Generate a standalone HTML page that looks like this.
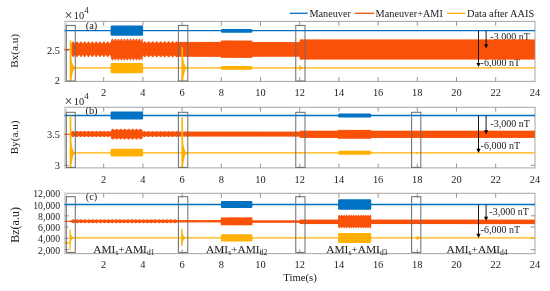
<!DOCTYPE html>
<html lang="en"><head><meta charset="utf-8"><title>Figure</title>
<style>html,body{margin:0;padding:0;background:#fff}svg{display:block}</style></head>
<body>
<svg width="550" height="291" viewBox="0 0 550 291" font-family="'Liberation Serif', serif" fill="#1a1a1a">
<rect width="550" height="291" fill="#fff"/>
<rect x="64.50" y="21.40" width="470.50" height="60.00" fill="none" stroke="#adadad" stroke-width="1.1"/>
<rect x="64.0" y="21.40" width="2.9" height="60.00" fill="#d9d9d9"/>
<path d="M103.70 81.40v-4.4M103.70 21.40v4.4M142.90 81.40v-4.4M142.90 21.40v4.4M182.10 81.40v-4.4M182.10 21.40v4.4M221.30 81.40v-4.4M221.30 21.40v4.4M260.50 81.40v-4.4M260.50 21.40v4.4M299.70 81.40v-4.4M299.70 21.40v4.4M338.90 81.40v-4.4M338.90 21.40v4.4M378.10 81.40v-4.4M378.10 21.40v4.4M417.30 81.40v-4.4M417.30 21.40v4.4M456.50 81.40v-4.4M456.50 21.40v4.4M495.70 81.40v-4.4M495.70 21.40v4.4M64.50 50.30h4.3M535.00 50.30h-4.3" stroke="#8c8c8c" stroke-width="0.9" fill="none"/>
<line x1="64.50" y1="30.70" x2="535.00" y2="30.70" stroke="#0072C3" stroke-width="1.3"/>
<rect x="110.56" y="25.60" width="32.54" height="10.10" rx="1.30" fill="#0072C3"/>
<rect x="220.91" y="29.00" width="31.46" height="3.80" rx="1.30" fill="#0072C3"/>
<text x="490.30" y="40.00" font-size="10.00" text-anchor="start" >-3,000 nT</text>
<text x="480.60" y="65.60" font-size="10.00" text-anchor="start" >-6,000 nT</text>
<line x1="64.50" y1="49.50" x2="71.56" y2="49.50" stroke="#FA5109" stroke-width="1.2"/>
<path d="M71.36 43.90 L71.76 43.12 L72.17 42.42 L72.57 41.89 L72.97 41.57 L73.38 41.51 L73.78 41.71 L74.18 42.15 L74.59 42.78 L74.99 43.53 L75.39 43.48 L75.80 42.73 L76.20 42.11 L76.60 41.69 L77.01 41.51 L77.41 41.58 L77.81 41.91 L78.22 42.46 L78.62 43.16 L79.02 43.85 L79.43 43.07 L79.83 42.38 L80.23 41.86 L80.64 41.56 L81.04 41.51 L81.44 41.73 L81.85 42.18 L82.25 42.82 L82.66 43.58 L83.06 43.43 L83.46 42.69 L83.87 42.08 L84.27 41.67 L84.67 41.50 L85.08 41.60 L85.48 41.94 L85.88 42.50 L86.29 43.21 L86.69 43.80 L87.09 43.03 L87.50 42.35 L87.90 41.84 L88.30 41.55 L88.71 41.52 L89.11 41.75 L89.51 42.21 L89.92 42.86 L90.32 43.62 L90.72 43.38 L91.13 42.65 L91.53 42.05 L91.93 41.65 L92.34 41.50 L92.74 41.61 L93.14 41.97 L93.55 42.54 L93.95 43.26 L94.35 43.75 L94.76 42.98 L95.16 42.31 L95.56 41.81 L95.97 41.54 L96.37 41.53 L96.77 41.77 L97.18 42.25 L97.58 42.91 L97.98 43.67 L98.39 43.34 L98.79 42.61 L99.19 42.02 L99.60 41.64 L100.00 41.50 L100.40 41.63 L100.81 42.00 L101.21 42.58 L101.62 43.30 L102.02 43.71 L102.42 42.94 L102.83 42.27 L103.23 41.79 L103.63 41.53 L104.04 41.53 L104.44 41.79 L104.84 42.28 L105.25 42.95 L105.65 43.72 L106.05 43.29 L106.46 42.57 L106.86 41.99 L107.26 41.62 L107.67 41.50 L108.07 41.64 L108.47 42.03 L108.88 42.62 L109.28 43.35 L109.68 43.66 L110.09 42.89 L110.49 42.24 L110.89 41.76 L110.89 41.20 L111.30 40.14 L111.70 39.26 L112.10 38.72 L112.50 38.62 L112.91 38.97 L113.31 39.71 L113.71 40.71 L114.11 40.60 L114.52 39.62 L114.92 38.91 L115.32 38.61 L115.73 38.76 L116.13 39.33 L116.53 40.24 L116.93 41.09 L117.34 40.04 L117.74 39.19 L118.14 38.69 L118.54 38.63 L118.95 39.02 L119.35 39.80 L119.75 40.82 L120.15 40.50 L120.56 39.53 L120.96 38.86 L121.36 38.60 L121.77 38.79 L122.17 39.41 L122.57 40.34 L122.97 40.98 L123.38 39.94 L123.78 39.12 L124.18 38.66 L124.58 38.65 L124.99 39.09 L125.39 39.89 L125.79 40.92 L126.19 40.39 L126.60 39.45 L127.00 38.82 L127.40 38.60 L127.81 38.84 L128.21 39.49 L128.61 40.44 L129.01 40.87 L129.42 39.85 L129.82 39.06 L130.22 38.64 L130.62 38.68 L131.03 39.15 L131.43 39.99 L131.83 41.03 L132.23 40.29 L132.64 39.37 L133.04 38.78 L133.44 38.60 L133.85 38.89 L134.25 39.57 L134.65 40.55 L135.05 40.77 L135.46 39.75 L135.86 39.00 L136.26 38.62 L136.66 38.70 L137.07 39.22 L137.47 40.08 L137.87 41.14 L138.27 40.19 L138.68 39.30 L139.08 38.74 L139.48 38.61 L139.89 38.94 L140.29 39.66 L140.69 40.65 L141.09 40.66 L141.50 39.67 L141.90 38.94 L142.30 38.61 L142.70 38.74 L142.70 43.30 L143.11 42.68 L143.51 42.12 L143.91 41.68 L144.31 41.40 L144.71 41.30 L145.11 41.40 L145.51 41.69 L145.91 42.14 L146.31 42.70 L146.72 43.28 L147.12 42.66 L147.52 42.11 L147.92 41.67 L148.32 41.39 L148.72 41.30 L149.12 41.41 L149.52 41.70 L149.92 42.15 L150.33 42.71 L150.73 43.26 L151.13 42.65 L151.53 42.09 L151.93 41.66 L152.33 41.39 L152.73 41.30 L153.13 41.41 L153.53 41.71 L153.94 42.16 L154.34 42.73 L154.74 43.25 L155.14 42.63 L155.54 42.08 L155.94 41.65 L156.34 41.38 L156.74 41.30 L157.14 41.42 L157.55 41.72 L157.95 42.18 L158.35 42.75 L158.75 43.23 L159.15 42.61 L159.55 42.07 L159.95 41.64 L160.35 41.38 L160.75 41.30 L161.16 41.42 L161.56 41.73 L161.96 42.19 L162.36 42.76 L162.76 43.21 L163.16 42.60 L163.56 42.05 L163.96 41.63 L164.36 41.37 L164.77 41.30 L165.17 41.43 L165.57 41.74 L165.97 42.21 L166.37 42.78 L166.77 43.19 L167.17 42.58 L167.57 42.04 L167.97 41.62 L168.38 41.37 L168.78 41.30 L169.18 41.44 L169.58 41.75 L169.98 42.22 L170.38 42.80 L170.78 43.18 L171.18 42.56 L171.58 42.02 L171.99 41.61 L172.39 41.36 L172.79 41.30 L173.19 41.44 L173.59 41.76 L173.99 42.24 L174.39 42.82 L174.79 43.16 L175.19 42.55 L175.60 42.01 L176.00 41.60 L176.40 41.36 L176.80 41.31 L177.20 41.45 L177.20 42.20 L177.60 41.96 L178.00 41.82 L178.40 41.82 L178.80 41.97 L179.20 42.20 L179.61 41.96 L180.01 41.82 L180.41 41.82 L180.81 41.97 L181.21 42.19 L181.61 41.96 L182.01 41.82 L182.41 41.82 L182.81 41.97 L183.21 42.19 L183.62 41.96 L184.02 41.82 L184.42 41.82 L184.82 41.97 L185.22 42.19 L185.62 41.95 L186.02 41.82 L186.42 41.82 L186.82 41.98 L187.22 42.18 L187.63 41.95 L188.03 41.81 L188.43 41.83 L188.83 41.98 L189.23 42.18 L189.63 41.95 L190.03 41.81 L190.43 41.83 L190.83 41.98 L191.23 42.18 L191.64 41.95 L192.04 41.81 L192.44 41.83 L192.84 41.98 L193.24 42.18 L193.64 41.94 L194.04 41.81 L194.44 41.83 L194.84 41.99 L195.24 42.17 L195.65 41.94 L196.05 41.81 L196.45 41.83 L196.85 41.99 L197.25 42.17 L197.65 41.94 L198.05 41.81 L198.45 41.83 L198.85 41.99 L199.25 42.17 L199.66 41.94 L200.06 41.81 L200.46 41.83 L200.86 42.00 L201.26 42.16 L201.66 41.94 L202.06 41.81 L202.46 41.83 L202.86 42.00 L203.26 42.16 L203.67 41.93 L204.07 41.81 L204.47 41.83 L204.87 42.00 L205.27 42.16 L205.67 41.93 L206.07 41.81 L206.47 41.84 L206.87 42.00 L207.27 42.15 L207.68 41.93 L208.08 41.81 L208.48 41.84 L208.88 42.01 L209.28 42.15 L209.68 41.93 L210.08 41.81 L210.48 41.84 L210.88 42.01 L211.28 42.15 L211.69 41.92 L212.09 41.81 L212.49 41.84 L212.89 42.01 L213.29 42.14 L213.69 41.92 L214.09 41.81 L214.49 41.84 L214.89 42.01 L215.29 42.14 L215.70 41.92 L216.10 41.81 L216.50 41.84 L216.90 42.02 L217.30 42.14 L217.70 41.92 L218.10 41.80 L218.50 41.84 L218.90 42.02 L219.30 42.13 L219.71 41.91 L220.11 41.80 L220.51 41.85 L220.91 42.02 L220.91 40.90 L221.31 40.54 L221.71 40.33 L222.12 40.33 L222.52 40.56 L222.92 40.88 L223.33 40.53 L223.73 40.32 L224.13 40.34 L224.54 40.57 L224.94 40.87 L225.34 40.52 L225.75 40.32 L226.15 40.34 L226.55 40.58 L226.96 40.85 L227.36 40.51 L227.76 40.32 L228.17 40.35 L228.57 40.60 L228.97 40.84 L229.38 40.50 L229.78 40.31 L230.18 40.36 L230.59 40.61 L230.99 40.82 L231.39 40.49 L231.80 40.31 L232.20 40.36 L232.60 40.62 L233.01 40.81 L233.41 40.47 L233.81 40.31 L234.22 40.37 L234.62 40.64 L235.02 40.79 L235.43 40.46 L235.83 40.30 L236.23 40.38 L236.64 40.65 L237.04 40.78 L237.44 40.45 L237.85 40.30 L238.25 40.38 L238.65 40.67 L239.06 40.76 L239.46 40.44 L239.86 40.30 L240.27 40.39 L240.67 40.68 L241.07 40.75 L241.48 40.43 L241.88 40.30 L242.28 40.40 L242.69 40.70 L243.09 40.73 L243.49 40.42 L243.90 40.30 L244.30 40.41 L244.70 40.71 L245.11 40.72 L245.51 40.41 L245.91 40.30 L246.32 40.42 L246.72 40.73 L247.12 40.70 L247.53 40.40 L247.93 40.30 L248.33 40.43 L248.74 40.74 L249.14 40.69 L249.54 40.40 L249.95 40.30 L250.35 40.44 L250.75 40.76 L251.16 40.67 L251.56 40.39 L251.96 40.30 L252.37 40.45 L252.37 42.30 L252.77 42.06 L253.17 41.92 L253.57 41.92 L253.97 42.07 L254.37 42.30 L254.77 42.06 L255.17 41.92 L255.58 41.92 L255.98 42.07 L256.38 42.29 L256.78 42.06 L257.18 41.92 L257.58 41.92 L257.98 42.07 L258.38 42.29 L258.78 42.06 L259.19 41.92 L259.59 41.92 L259.99 42.08 L260.39 42.29 L260.79 42.05 L261.19 41.92 L261.59 41.92 L261.99 42.08 L262.39 42.28 L262.80 42.05 L263.20 41.91 L263.60 41.93 L264.00 42.08 L264.40 42.28 L264.80 42.05 L265.20 41.91 L265.60 41.93 L266.00 42.08 L266.41 42.28 L266.81 42.04 L267.21 41.91 L267.61 41.93 L268.01 42.09 L268.41 42.27 L268.81 42.04 L269.21 41.91 L269.61 41.93 L270.02 42.09 L270.42 42.27 L270.82 42.04 L271.22 41.91 L271.62 41.93 L272.02 42.09 L272.42 42.26 L272.82 42.04 L273.23 41.91 L273.63 41.93 L274.03 42.10 L274.43 42.26 L274.83 42.03 L275.23 41.91 L275.63 41.93 L276.03 42.10 L276.43 42.26 L276.84 42.03 L277.24 41.91 L277.64 41.94 L278.04 42.10 L278.44 42.25 L278.84 42.03 L279.24 41.91 L279.64 41.94 L280.04 42.11 L280.45 42.25 L280.85 42.03 L281.25 41.91 L281.65 41.94 L282.05 42.11 L282.45 42.25 L282.85 42.02 L283.25 41.91 L283.65 41.94 L284.06 42.11 L284.46 42.24 L284.86 42.02 L285.26 41.91 L285.66 41.94 L286.06 42.12 L286.46 42.24 L286.86 42.02 L287.26 41.91 L287.67 41.94 L288.07 42.12 L288.47 42.24 L288.87 42.02 L289.27 41.90 L289.67 41.95 L290.07 42.12 L290.47 42.23 L290.88 42.01 L291.28 41.90 L291.68 41.95 L292.08 42.13 L292.48 42.23 L292.88 42.01 L293.28 41.90 L293.68 41.95 L294.08 42.13 L294.49 42.23 L294.89 42.01 L295.29 41.90 L295.69 41.95 L296.09 42.13 L296.49 42.22 L296.89 42.01 L297.29 41.90 L297.69 41.95 L298.10 42.14 L298.50 42.22 L298.90 42.00 L299.30 41.90 L299.70 41.95 L299.70 39.75 L300.10 39.32 L300.50 39.32 L300.90 39.75 L301.30 39.32 L301.70 39.32 L302.10 39.75 L302.50 39.32 L302.90 39.32 L303.30 39.75 L303.70 39.32 L304.10 39.32 L304.50 39.75 L304.90 39.32 L305.30 39.32 L305.70 39.75 L306.10 39.32 L306.50 39.32 L306.90 39.75 L307.30 39.32 L307.70 39.32 L308.10 39.75 L308.50 39.32 L308.90 39.32 L309.30 39.75 L309.70 39.32 L310.10 39.32 L310.50 39.75 L310.90 39.32 L311.30 39.32 L311.70 39.75 L312.10 39.32 L312.50 39.32 L312.90 39.75 L313.30 39.32 L313.70 39.32 L314.10 39.75 L314.50 39.32 L314.90 39.32 L315.30 39.75 L315.70 39.32 L316.10 39.32 L316.50 39.75 L316.90 39.32 L317.30 39.32 L317.70 39.75 L318.10 39.32 L318.50 39.32 L318.90 39.75 L319.30 39.32 L319.70 39.32 L320.10 39.75 L320.50 39.32 L320.90 39.32 L321.30 39.75 L321.70 39.32 L322.10 39.32 L322.50 39.75 L322.90 39.32 L323.30 39.32 L323.70 39.75 L324.10 39.32 L324.50 39.32 L324.90 39.75 L325.30 39.32 L325.70 39.32 L326.10 39.75 L326.50 39.32 L326.90 39.32 L327.30 39.75 L327.70 39.32 L328.10 39.32 L328.50 39.75 L328.90 39.32 L329.30 39.32 L329.70 39.75 L330.10 39.32 L330.50 39.32 L330.90 39.75 L331.30 39.32 L331.70 39.32 L332.10 39.75 L332.50 39.32 L332.90 39.32 L333.30 39.75 L333.70 39.32 L334.10 39.32 L334.50 39.75 L334.90 39.32 L335.30 39.32 L335.70 39.75 L336.10 39.32 L336.50 39.32 L336.90 39.75 L337.30 39.32 L337.70 39.32 L338.10 39.75 L338.50 39.32 L338.90 39.32 L339.30 39.75 L339.70 39.32 L340.10 39.32 L340.50 39.75 L340.90 39.32 L341.30 39.32 L341.70 39.75 L342.10 39.32 L342.50 39.32 L342.90 39.75 L343.30 39.32 L343.70 39.32 L344.10 39.75 L344.50 39.32 L344.90 39.32 L345.30 39.75 L345.70 39.32 L346.10 39.32 L346.50 39.75 L346.90 39.32 L347.30 39.32 L347.70 39.75 L348.10 39.32 L348.50 39.32 L348.90 39.75 L349.30 39.32 L349.70 39.32 L350.10 39.75 L350.50 39.32 L350.90 39.32 L351.30 39.75 L351.70 39.32 L352.10 39.32 L352.50 39.75 L352.90 39.32 L353.30 39.32 L353.70 39.75 L354.10 39.32 L354.50 39.32 L354.90 39.75 L355.30 39.32 L355.70 39.32 L356.10 39.75 L356.50 39.32 L356.90 39.32 L357.30 39.75 L357.70 39.32 L358.10 39.32 L358.50 39.75 L358.90 39.32 L359.30 39.32 L359.70 39.75 L360.10 39.32 L360.50 39.32 L360.90 39.75 L361.30 39.32 L361.70 39.32 L362.10 39.75 L362.50 39.32 L362.90 39.32 L363.30 39.75 L363.70 39.32 L364.10 39.32 L364.50 39.75 L364.90 39.32 L365.30 39.32 L365.70 39.75 L366.10 39.32 L366.50 39.32 L366.90 39.75 L367.30 39.32 L367.70 39.32 L368.10 39.75 L368.50 39.32 L368.90 39.32 L369.30 39.75 L369.70 39.32 L370.10 39.32 L370.50 39.75 L370.90 39.32 L371.30 39.32 L371.70 39.75 L372.10 39.32 L372.50 39.32 L372.90 39.75 L373.30 39.32 L373.70 39.32 L374.10 39.75 L374.50 39.32 L374.90 39.32 L375.30 39.75 L375.70 39.32 L376.10 39.32 L376.50 39.75 L376.90 39.32 L377.30 39.32 L377.70 39.75 L378.10 39.32 L378.50 39.32 L378.90 39.75 L379.30 39.32 L379.70 39.32 L380.10 39.75 L380.50 39.32 L380.90 39.32 L381.30 39.75 L381.70 39.32 L382.10 39.32 L382.50 39.75 L382.90 39.32 L383.30 39.32 L383.70 39.75 L384.10 39.32 L384.50 39.32 L384.90 39.75 L385.30 39.32 L385.70 39.32 L386.10 39.75 L386.50 39.32 L386.90 39.32 L387.30 39.75 L387.70 39.32 L388.10 39.32 L388.50 39.75 L388.90 39.32 L389.30 39.32 L389.70 39.75 L390.10 39.32 L390.50 39.32 L390.90 39.75 L391.30 39.32 L391.70 39.32 L392.10 39.75 L392.50 39.32 L392.90 39.32 L393.30 39.75 L393.70 39.32 L394.10 39.32 L394.50 39.75 L394.90 39.32 L395.30 39.32 L395.70 39.75 L396.10 39.32 L396.50 39.32 L396.90 39.75 L397.30 39.32 L397.70 39.32 L398.10 39.75 L398.50 39.32 L398.90 39.32 L399.30 39.75 L399.70 39.32 L400.10 39.32 L400.50 39.75 L400.90 39.32 L401.30 39.32 L401.70 39.75 L402.10 39.32 L402.50 39.32 L402.90 39.75 L403.30 39.32 L403.70 39.32 L404.10 39.75 L404.50 39.32 L404.90 39.32 L405.30 39.75 L405.70 39.32 L406.10 39.32 L406.50 39.75 L406.90 39.32 L407.30 39.32 L407.70 39.75 L408.10 39.32 L408.50 39.32 L408.90 39.75 L409.30 39.32 L409.70 39.32 L410.10 39.75 L410.50 39.32 L410.90 39.32 L411.30 39.75 L411.70 39.32 L412.10 39.32 L412.50 39.75 L412.90 39.32 L413.30 39.32 L413.70 39.75 L414.10 39.32 L414.50 39.32 L414.90 39.75 L415.30 39.32 L415.70 39.32 L416.10 39.75 L416.50 39.32 L416.90 39.32 L417.30 39.75 L417.70 39.32 L418.10 39.32 L418.50 39.75 L418.90 39.32 L419.30 39.32 L419.70 39.75 L420.10 39.32 L420.50 39.32 L420.90 39.75 L421.30 39.32 L421.70 39.32 L422.10 39.75 L422.50 39.32 L422.90 39.32 L423.30 39.75 L423.70 39.32 L424.10 39.32 L424.50 39.75 L424.90 39.32 L425.30 39.32 L425.70 39.75 L426.10 39.32 L426.50 39.32 L426.90 39.75 L427.30 39.32 L427.70 39.32 L428.10 39.75 L428.50 39.32 L428.90 39.32 L429.30 39.75 L429.70 39.32 L430.10 39.32 L430.50 39.75 L430.90 39.32 L431.30 39.32 L431.70 39.75 L432.10 39.32 L432.50 39.32 L432.90 39.75 L433.30 39.32 L433.70 39.32 L434.10 39.75 L434.50 39.32 L434.90 39.32 L435.30 39.75 L435.70 39.32 L436.10 39.32 L436.50 39.75 L436.90 39.32 L437.30 39.32 L437.70 39.75 L438.10 39.32 L438.50 39.32 L438.90 39.75 L439.30 39.32 L439.70 39.32 L440.10 39.75 L440.50 39.32 L440.90 39.32 L441.30 39.75 L441.70 39.32 L442.10 39.32 L442.50 39.75 L442.90 39.32 L443.30 39.32 L443.70 39.75 L444.10 39.32 L444.50 39.32 L444.90 39.75 L445.30 39.32 L445.70 39.32 L446.10 39.75 L446.50 39.32 L446.90 39.32 L447.30 39.75 L447.70 39.32 L448.10 39.32 L448.50 39.75 L448.90 39.32 L449.30 39.32 L449.70 39.75 L450.10 39.32 L450.50 39.32 L450.90 39.75 L451.30 39.32 L451.70 39.32 L452.10 39.75 L452.50 39.32 L452.90 39.32 L453.30 39.75 L453.70 39.32 L454.10 39.32 L454.50 39.75 L454.90 39.32 L455.30 39.32 L455.70 39.75 L456.10 39.32 L456.50 39.32 L456.90 39.75 L457.30 39.32 L457.70 39.32 L458.10 39.75 L458.50 39.32 L458.90 39.32 L459.30 39.75 L459.70 39.32 L460.10 39.32 L460.50 39.75 L460.90 39.32 L461.30 39.32 L461.70 39.75 L462.10 39.32 L462.50 39.32 L462.90 39.75 L463.30 39.32 L463.70 39.32 L464.10 39.75 L464.50 39.32 L464.90 39.32 L465.30 39.75 L465.70 39.32 L466.10 39.32 L466.50 39.75 L466.90 39.32 L467.30 39.32 L467.70 39.75 L468.10 39.32 L468.50 39.32 L468.90 39.75 L469.30 39.32 L469.70 39.32 L470.10 39.75 L470.50 39.32 L470.90 39.32 L471.30 39.75 L471.70 39.32 L472.10 39.32 L472.50 39.75 L472.90 39.32 L473.30 39.32 L473.70 39.75 L474.10 39.32 L474.50 39.32 L474.90 39.75 L475.30 39.32 L475.70 39.32 L476.10 39.75 L476.50 39.32 L476.90 39.32 L477.30 39.75 L477.70 39.32 L478.10 39.32 L478.50 39.75 L478.90 39.32 L479.30 39.32 L479.70 39.75 L480.10 39.32 L480.50 39.32 L480.90 39.75 L481.30 39.32 L481.70 39.32 L482.10 39.75 L482.50 39.32 L482.90 39.32 L483.30 39.75 L483.70 39.32 L484.10 39.32 L484.50 39.75 L484.90 39.32 L485.30 39.32 L485.70 39.75 L486.10 39.32 L486.50 39.32 L486.90 39.75 L487.30 39.32 L487.70 39.32 L488.10 39.75 L488.50 39.32 L488.90 39.32 L489.30 39.75 L489.70 39.32 L490.10 39.32 L490.50 39.75 L490.90 39.32 L491.30 39.32 L491.70 39.75 L492.10 39.32 L492.50 39.32 L492.90 39.75 L493.30 39.32 L493.70 39.32 L494.10 39.75 L494.50 39.32 L494.90 39.32 L495.30 39.75 L495.70 39.32 L496.10 39.32 L496.50 39.75 L496.90 39.32 L497.30 39.32 L497.70 39.75 L498.10 39.32 L498.50 39.32 L498.90 39.75 L499.30 39.32 L499.70 39.32 L500.10 39.75 L500.50 39.32 L500.90 39.32 L501.30 39.75 L501.70 39.32 L502.10 39.32 L502.50 39.75 L502.90 39.32 L503.30 39.32 L503.70 39.75 L504.10 39.32 L504.50 39.32 L504.90 39.75 L505.30 39.32 L505.70 39.32 L506.10 39.75 L506.50 39.32 L506.90 39.32 L507.30 39.75 L507.70 39.32 L508.10 39.32 L508.50 39.75 L508.90 39.32 L509.30 39.32 L509.70 39.75 L510.10 39.32 L510.50 39.32 L510.90 39.75 L511.30 39.32 L511.70 39.32 L512.10 39.75 L512.50 39.32 L512.90 39.32 L513.30 39.75 L513.70 39.32 L514.10 39.32 L514.50 39.75 L514.90 39.32 L515.30 39.32 L515.70 39.75 L516.10 39.32 L516.50 39.32 L516.90 39.75 L517.30 39.32 L517.70 39.32 L518.10 39.75 L518.50 39.32 L518.90 39.32 L519.30 39.75 L519.70 39.32 L520.10 39.32 L520.50 39.75 L520.90 39.32 L521.30 39.32 L521.70 39.75 L522.10 39.32 L522.50 39.32 L522.90 39.75 L523.30 39.32 L523.70 39.32 L524.10 39.75 L524.50 39.32 L524.90 39.32 L525.30 39.75 L525.70 39.32 L526.10 39.32 L526.50 39.75 L526.90 39.32 L527.30 39.32 L527.70 39.75 L528.10 39.32 L528.50 39.32 L528.90 39.75 L529.30 39.32 L529.70 39.32 L530.10 39.75 L530.50 39.32 L530.90 39.32 L531.30 39.75 L531.70 39.32 L532.10 39.32 L532.50 39.75 L532.90 39.32 L533.30 39.32 L533.70 39.75 L534.10 39.32 L534.50 39.32 L534.90 39.75 L534.90 59.20 L534.50 59.63 L534.10 59.63 L533.70 59.20 L533.30 59.63 L532.90 59.63 L532.50 59.20 L532.10 59.63 L531.70 59.63 L531.30 59.20 L530.90 59.63 L530.50 59.63 L530.10 59.20 L529.70 59.63 L529.30 59.63 L528.90 59.20 L528.50 59.63 L528.10 59.63 L527.70 59.20 L527.30 59.63 L526.90 59.63 L526.50 59.20 L526.10 59.63 L525.70 59.63 L525.30 59.20 L524.90 59.63 L524.50 59.63 L524.10 59.20 L523.70 59.63 L523.30 59.63 L522.90 59.20 L522.50 59.63 L522.10 59.63 L521.70 59.20 L521.30 59.63 L520.90 59.63 L520.50 59.20 L520.10 59.63 L519.70 59.63 L519.30 59.20 L518.90 59.63 L518.50 59.63 L518.10 59.20 L517.70 59.63 L517.30 59.63 L516.90 59.20 L516.50 59.63 L516.10 59.63 L515.70 59.20 L515.30 59.63 L514.90 59.63 L514.50 59.20 L514.10 59.63 L513.70 59.63 L513.30 59.20 L512.90 59.63 L512.50 59.63 L512.10 59.20 L511.70 59.63 L511.30 59.63 L510.90 59.20 L510.50 59.63 L510.10 59.63 L509.70 59.20 L509.30 59.63 L508.90 59.63 L508.50 59.20 L508.10 59.63 L507.70 59.63 L507.30 59.20 L506.90 59.63 L506.50 59.63 L506.10 59.20 L505.70 59.63 L505.30 59.63 L504.90 59.20 L504.50 59.63 L504.10 59.63 L503.70 59.20 L503.30 59.63 L502.90 59.63 L502.50 59.20 L502.10 59.63 L501.70 59.63 L501.30 59.20 L500.90 59.63 L500.50 59.63 L500.10 59.20 L499.70 59.63 L499.30 59.63 L498.90 59.20 L498.50 59.63 L498.10 59.63 L497.70 59.20 L497.30 59.63 L496.90 59.63 L496.50 59.20 L496.10 59.63 L495.70 59.63 L495.30 59.20 L494.90 59.63 L494.50 59.63 L494.10 59.20 L493.70 59.63 L493.30 59.63 L492.90 59.20 L492.50 59.63 L492.10 59.63 L491.70 59.20 L491.30 59.63 L490.90 59.63 L490.50 59.20 L490.10 59.63 L489.70 59.63 L489.30 59.20 L488.90 59.63 L488.50 59.63 L488.10 59.20 L487.70 59.63 L487.30 59.63 L486.90 59.20 L486.50 59.63 L486.10 59.63 L485.70 59.20 L485.30 59.63 L484.90 59.63 L484.50 59.20 L484.10 59.63 L483.70 59.63 L483.30 59.20 L482.90 59.63 L482.50 59.63 L482.10 59.20 L481.70 59.63 L481.30 59.63 L480.90 59.20 L480.50 59.63 L480.10 59.63 L479.70 59.20 L479.30 59.63 L478.90 59.63 L478.50 59.20 L478.10 59.63 L477.70 59.63 L477.30 59.20 L476.90 59.63 L476.50 59.63 L476.10 59.20 L475.70 59.63 L475.30 59.63 L474.90 59.20 L474.50 59.63 L474.10 59.63 L473.70 59.20 L473.30 59.63 L472.90 59.63 L472.50 59.20 L472.10 59.63 L471.70 59.63 L471.30 59.20 L470.90 59.63 L470.50 59.63 L470.10 59.20 L469.70 59.63 L469.30 59.63 L468.90 59.20 L468.50 59.63 L468.10 59.63 L467.70 59.20 L467.30 59.63 L466.90 59.63 L466.50 59.20 L466.10 59.63 L465.70 59.63 L465.30 59.20 L464.90 59.63 L464.50 59.63 L464.10 59.20 L463.70 59.63 L463.30 59.63 L462.90 59.20 L462.50 59.63 L462.10 59.63 L461.70 59.20 L461.30 59.63 L460.90 59.63 L460.50 59.20 L460.10 59.63 L459.70 59.63 L459.30 59.20 L458.90 59.63 L458.50 59.63 L458.10 59.20 L457.70 59.63 L457.30 59.63 L456.90 59.20 L456.50 59.63 L456.10 59.63 L455.70 59.20 L455.30 59.63 L454.90 59.63 L454.50 59.20 L454.10 59.63 L453.70 59.63 L453.30 59.20 L452.90 59.63 L452.50 59.63 L452.10 59.20 L451.70 59.63 L451.30 59.63 L450.90 59.20 L450.50 59.63 L450.10 59.63 L449.70 59.20 L449.30 59.63 L448.90 59.63 L448.50 59.20 L448.10 59.63 L447.70 59.63 L447.30 59.20 L446.90 59.63 L446.50 59.63 L446.10 59.20 L445.70 59.63 L445.30 59.63 L444.90 59.20 L444.50 59.63 L444.10 59.63 L443.70 59.20 L443.30 59.63 L442.90 59.63 L442.50 59.20 L442.10 59.63 L441.70 59.63 L441.30 59.20 L440.90 59.63 L440.50 59.63 L440.10 59.20 L439.70 59.63 L439.30 59.63 L438.90 59.20 L438.50 59.63 L438.10 59.63 L437.70 59.20 L437.30 59.63 L436.90 59.63 L436.50 59.20 L436.10 59.63 L435.70 59.63 L435.30 59.20 L434.90 59.63 L434.50 59.63 L434.10 59.20 L433.70 59.63 L433.30 59.63 L432.90 59.20 L432.50 59.63 L432.10 59.63 L431.70 59.20 L431.30 59.63 L430.90 59.63 L430.50 59.20 L430.10 59.63 L429.70 59.63 L429.30 59.20 L428.90 59.63 L428.50 59.63 L428.10 59.20 L427.70 59.63 L427.30 59.63 L426.90 59.20 L426.50 59.63 L426.10 59.63 L425.70 59.20 L425.30 59.63 L424.90 59.63 L424.50 59.20 L424.10 59.63 L423.70 59.63 L423.30 59.20 L422.90 59.63 L422.50 59.63 L422.10 59.20 L421.70 59.63 L421.30 59.63 L420.90 59.20 L420.50 59.63 L420.10 59.63 L419.70 59.20 L419.30 59.63 L418.90 59.63 L418.50 59.20 L418.10 59.63 L417.70 59.63 L417.30 59.20 L416.90 59.63 L416.50 59.63 L416.10 59.20 L415.70 59.63 L415.30 59.63 L414.90 59.20 L414.50 59.63 L414.10 59.63 L413.70 59.20 L413.30 59.63 L412.90 59.63 L412.50 59.20 L412.10 59.63 L411.70 59.63 L411.30 59.20 L410.90 59.63 L410.50 59.63 L410.10 59.20 L409.70 59.63 L409.30 59.63 L408.90 59.20 L408.50 59.63 L408.10 59.63 L407.70 59.20 L407.30 59.63 L406.90 59.63 L406.50 59.20 L406.10 59.63 L405.70 59.63 L405.30 59.20 L404.90 59.63 L404.50 59.63 L404.10 59.20 L403.70 59.63 L403.30 59.63 L402.90 59.20 L402.50 59.63 L402.10 59.63 L401.70 59.20 L401.30 59.63 L400.90 59.63 L400.50 59.20 L400.10 59.63 L399.70 59.63 L399.30 59.20 L398.90 59.63 L398.50 59.63 L398.10 59.20 L397.70 59.63 L397.30 59.63 L396.90 59.20 L396.50 59.63 L396.10 59.63 L395.70 59.20 L395.30 59.63 L394.90 59.63 L394.50 59.20 L394.10 59.63 L393.70 59.63 L393.30 59.20 L392.90 59.63 L392.50 59.63 L392.10 59.20 L391.70 59.63 L391.30 59.63 L390.90 59.20 L390.50 59.63 L390.10 59.63 L389.70 59.20 L389.30 59.63 L388.90 59.63 L388.50 59.20 L388.10 59.63 L387.70 59.63 L387.30 59.20 L386.90 59.63 L386.50 59.63 L386.10 59.20 L385.70 59.63 L385.30 59.63 L384.90 59.20 L384.50 59.63 L384.10 59.63 L383.70 59.20 L383.30 59.63 L382.90 59.63 L382.50 59.20 L382.10 59.63 L381.70 59.63 L381.30 59.20 L380.90 59.63 L380.50 59.63 L380.10 59.20 L379.70 59.63 L379.30 59.63 L378.90 59.20 L378.50 59.63 L378.10 59.63 L377.70 59.20 L377.30 59.63 L376.90 59.63 L376.50 59.20 L376.10 59.63 L375.70 59.63 L375.30 59.20 L374.90 59.63 L374.50 59.63 L374.10 59.20 L373.70 59.63 L373.30 59.63 L372.90 59.20 L372.50 59.63 L372.10 59.63 L371.70 59.20 L371.30 59.63 L370.90 59.63 L370.50 59.20 L370.10 59.63 L369.70 59.63 L369.30 59.20 L368.90 59.63 L368.50 59.63 L368.10 59.20 L367.70 59.63 L367.30 59.63 L366.90 59.20 L366.50 59.63 L366.10 59.63 L365.70 59.20 L365.30 59.63 L364.90 59.63 L364.50 59.20 L364.10 59.63 L363.70 59.63 L363.30 59.20 L362.90 59.63 L362.50 59.63 L362.10 59.20 L361.70 59.63 L361.30 59.63 L360.90 59.20 L360.50 59.63 L360.10 59.63 L359.70 59.20 L359.30 59.63 L358.90 59.63 L358.50 59.20 L358.10 59.63 L357.70 59.63 L357.30 59.20 L356.90 59.63 L356.50 59.63 L356.10 59.20 L355.70 59.63 L355.30 59.63 L354.90 59.20 L354.50 59.63 L354.10 59.63 L353.70 59.20 L353.30 59.63 L352.90 59.63 L352.50 59.20 L352.10 59.63 L351.70 59.63 L351.30 59.20 L350.90 59.63 L350.50 59.63 L350.10 59.20 L349.70 59.63 L349.30 59.63 L348.90 59.20 L348.50 59.63 L348.10 59.63 L347.70 59.20 L347.30 59.63 L346.90 59.63 L346.50 59.20 L346.10 59.63 L345.70 59.63 L345.30 59.20 L344.90 59.63 L344.50 59.63 L344.10 59.20 L343.70 59.63 L343.30 59.63 L342.90 59.20 L342.50 59.63 L342.10 59.63 L341.70 59.20 L341.30 59.63 L340.90 59.63 L340.50 59.20 L340.10 59.63 L339.70 59.63 L339.30 59.20 L338.90 59.63 L338.50 59.63 L338.10 59.20 L337.70 59.63 L337.30 59.63 L336.90 59.20 L336.50 59.63 L336.10 59.63 L335.70 59.20 L335.30 59.63 L334.90 59.63 L334.50 59.20 L334.10 59.63 L333.70 59.63 L333.30 59.20 L332.90 59.63 L332.50 59.63 L332.10 59.20 L331.70 59.63 L331.30 59.63 L330.90 59.20 L330.50 59.63 L330.10 59.63 L329.70 59.20 L329.30 59.63 L328.90 59.63 L328.50 59.20 L328.10 59.63 L327.70 59.63 L327.30 59.20 L326.90 59.63 L326.50 59.63 L326.10 59.20 L325.70 59.63 L325.30 59.63 L324.90 59.20 L324.50 59.63 L324.10 59.63 L323.70 59.20 L323.30 59.63 L322.90 59.63 L322.50 59.20 L322.10 59.63 L321.70 59.63 L321.30 59.20 L320.90 59.63 L320.50 59.63 L320.10 59.20 L319.70 59.63 L319.30 59.63 L318.90 59.20 L318.50 59.63 L318.10 59.63 L317.70 59.20 L317.30 59.63 L316.90 59.63 L316.50 59.20 L316.10 59.63 L315.70 59.63 L315.30 59.20 L314.90 59.63 L314.50 59.63 L314.10 59.20 L313.70 59.63 L313.30 59.63 L312.90 59.20 L312.50 59.63 L312.10 59.63 L311.70 59.20 L311.30 59.63 L310.90 59.63 L310.50 59.20 L310.10 59.63 L309.70 59.63 L309.30 59.20 L308.90 59.63 L308.50 59.63 L308.10 59.20 L307.70 59.63 L307.30 59.63 L306.90 59.20 L306.50 59.63 L306.10 59.63 L305.70 59.20 L305.30 59.63 L304.90 59.63 L304.50 59.20 L304.10 59.63 L303.70 59.63 L303.30 59.20 L302.90 59.63 L302.50 59.63 L302.10 59.20 L301.70 59.63 L301.30 59.63 L300.90 59.20 L300.50 59.63 L300.10 59.63 L299.70 59.20 L299.70 56.85 L299.30 56.90 L298.90 56.80 L298.50 56.58 L298.10 56.66 L297.69 56.85 L297.29 56.90 L296.89 56.79 L296.49 56.58 L296.09 56.67 L295.69 56.85 L295.29 56.90 L294.89 56.79 L294.49 56.57 L294.08 56.67 L293.68 56.85 L293.28 56.90 L292.88 56.79 L292.48 56.57 L292.08 56.67 L291.68 56.85 L291.28 56.90 L290.88 56.79 L290.47 56.57 L290.07 56.68 L289.67 56.85 L289.27 56.90 L288.87 56.78 L288.47 56.56 L288.07 56.68 L287.67 56.86 L287.26 56.89 L286.86 56.78 L286.46 56.56 L286.06 56.68 L285.66 56.86 L285.26 56.89 L284.86 56.78 L284.46 56.56 L284.06 56.69 L283.65 56.86 L283.25 56.89 L282.85 56.78 L282.45 56.55 L282.05 56.69 L281.65 56.86 L281.25 56.89 L280.85 56.77 L280.45 56.55 L280.04 56.69 L279.64 56.86 L279.24 56.89 L278.84 56.77 L278.44 56.55 L278.04 56.70 L277.64 56.86 L277.24 56.89 L276.84 56.77 L276.43 56.54 L276.03 56.70 L275.63 56.87 L275.23 56.89 L274.83 56.77 L274.43 56.54 L274.03 56.70 L273.63 56.87 L273.23 56.89 L272.82 56.76 L272.42 56.54 L272.02 56.71 L271.62 56.87 L271.22 56.89 L270.82 56.76 L270.42 56.53 L270.02 56.71 L269.61 56.87 L269.21 56.89 L268.81 56.76 L268.41 56.53 L268.01 56.71 L267.61 56.87 L267.21 56.89 L266.81 56.76 L266.41 56.52 L266.00 56.72 L265.60 56.87 L265.20 56.89 L264.80 56.75 L264.40 56.52 L264.00 56.72 L263.60 56.87 L263.20 56.89 L262.80 56.75 L262.39 56.52 L261.99 56.72 L261.59 56.88 L261.19 56.88 L260.79 56.75 L260.39 56.51 L259.99 56.72 L259.59 56.88 L259.19 56.88 L258.78 56.74 L258.38 56.51 L257.98 56.73 L257.58 56.88 L257.18 56.88 L256.78 56.74 L256.38 56.51 L255.98 56.73 L255.58 56.88 L255.17 56.88 L254.77 56.74 L254.37 56.50 L253.97 56.73 L253.57 56.88 L253.17 56.88 L252.77 56.74 L252.37 56.50 L252.37 57.95 L251.96 58.10 L251.56 58.01 L251.16 57.73 L250.75 57.64 L250.35 57.96 L249.95 58.10 L249.54 58.00 L249.14 57.71 L248.74 57.66 L248.33 57.97 L247.93 58.10 L247.53 58.00 L247.12 57.70 L246.72 57.67 L246.32 57.98 L245.91 58.10 L245.51 57.99 L245.11 57.68 L244.70 57.69 L244.30 57.99 L243.90 58.10 L243.49 57.98 L243.09 57.67 L242.69 57.70 L242.28 58.00 L241.88 58.10 L241.48 57.97 L241.07 57.65 L240.67 57.72 L240.27 58.01 L239.86 58.10 L239.46 57.96 L239.06 57.64 L238.65 57.73 L238.25 58.02 L237.85 58.10 L237.44 57.95 L237.04 57.62 L236.64 57.75 L236.23 58.02 L235.83 58.10 L235.43 57.94 L235.02 57.61 L234.62 57.76 L234.22 58.03 L233.81 58.09 L233.41 57.93 L233.01 57.59 L232.60 57.78 L232.20 58.04 L231.80 58.09 L231.39 57.91 L230.99 57.58 L230.59 57.79 L230.18 58.04 L229.78 58.09 L229.38 57.90 L228.97 57.56 L228.57 57.80 L228.17 58.05 L227.76 58.08 L227.36 57.89 L226.96 57.55 L226.55 57.82 L226.15 58.06 L225.75 58.08 L225.34 57.88 L224.94 57.53 L224.54 57.83 L224.13 58.06 L223.73 58.08 L223.33 57.87 L222.92 57.52 L222.52 57.84 L222.12 58.07 L221.71 58.07 L221.31 57.86 L220.91 57.50 L220.91 56.78 L220.51 56.95 L220.11 57.00 L219.71 56.89 L219.30 56.67 L218.90 56.78 L218.50 56.96 L218.10 57.00 L217.70 56.88 L217.30 56.66 L216.90 56.78 L216.50 56.96 L216.10 56.99 L215.70 56.88 L215.29 56.66 L214.89 56.79 L214.49 56.96 L214.09 56.99 L213.69 56.88 L213.29 56.66 L212.89 56.79 L212.49 56.96 L212.09 56.99 L211.69 56.88 L211.28 56.65 L210.88 56.79 L210.48 56.96 L210.08 56.99 L209.68 56.87 L209.28 56.65 L208.88 56.79 L208.48 56.96 L208.08 56.99 L207.68 56.87 L207.27 56.65 L206.87 56.80 L206.47 56.96 L206.07 56.99 L205.67 56.87 L205.27 56.64 L204.87 56.80 L204.47 56.97 L204.07 56.99 L203.67 56.87 L203.26 56.64 L202.86 56.80 L202.46 56.97 L202.06 56.99 L201.66 56.86 L201.26 56.64 L200.86 56.80 L200.46 56.97 L200.06 56.99 L199.66 56.86 L199.25 56.63 L198.85 56.81 L198.45 56.97 L198.05 56.99 L197.65 56.86 L197.25 56.63 L196.85 56.81 L196.45 56.97 L196.05 56.99 L195.65 56.86 L195.24 56.63 L194.84 56.81 L194.44 56.97 L194.04 56.99 L193.64 56.86 L193.24 56.62 L192.84 56.82 L192.44 56.97 L192.04 56.99 L191.64 56.85 L191.23 56.62 L190.83 56.82 L190.43 56.97 L190.03 56.99 L189.63 56.85 L189.23 56.62 L188.83 56.82 L188.43 56.97 L188.03 56.99 L187.63 56.85 L187.22 56.62 L186.82 56.82 L186.42 56.98 L186.02 56.98 L185.62 56.85 L185.22 56.61 L184.82 56.83 L184.42 56.98 L184.02 56.98 L183.62 56.84 L183.21 56.61 L182.81 56.83 L182.41 56.98 L182.01 56.98 L181.61 56.84 L181.21 56.61 L180.81 56.83 L180.41 56.98 L180.01 56.98 L179.61 56.84 L179.20 56.60 L178.80 56.83 L178.40 56.98 L178.00 56.98 L177.60 56.84 L177.20 56.60 L177.20 57.05 L176.80 57.19 L176.40 57.14 L176.00 56.90 L175.60 56.49 L175.19 55.95 L174.79 55.34 L174.39 55.68 L173.99 56.26 L173.59 56.74 L173.19 57.06 L172.79 57.20 L172.39 57.14 L171.99 56.89 L171.58 56.48 L171.18 55.94 L170.78 55.32 L170.38 55.70 L169.98 56.28 L169.58 56.75 L169.18 57.06 L168.78 57.20 L168.38 57.13 L167.97 56.88 L167.57 56.46 L167.17 55.92 L166.77 55.31 L166.37 55.72 L165.97 56.29 L165.57 56.76 L165.17 57.07 L164.77 57.20 L164.36 57.13 L163.96 56.87 L163.56 56.45 L163.16 55.90 L162.76 55.29 L162.36 55.74 L161.96 56.31 L161.56 56.77 L161.16 57.08 L160.75 57.20 L160.35 57.12 L159.95 56.86 L159.55 56.43 L159.15 55.89 L158.75 55.27 L158.35 55.75 L157.95 56.32 L157.55 56.78 L157.14 57.08 L156.74 57.20 L156.34 57.12 L155.94 56.85 L155.54 56.42 L155.14 55.87 L154.74 55.25 L154.34 55.77 L153.94 56.34 L153.53 56.79 L153.13 57.09 L152.73 57.20 L152.33 57.11 L151.93 56.84 L151.53 56.41 L151.13 55.85 L150.73 55.24 L150.33 55.79 L149.92 56.35 L149.52 56.80 L149.12 57.09 L148.72 57.20 L148.32 57.11 L147.92 56.83 L147.52 56.39 L147.12 55.84 L146.72 55.22 L146.31 55.80 L145.91 56.36 L145.51 56.81 L145.11 57.10 L144.71 57.20 L144.31 57.10 L143.91 56.82 L143.51 56.38 L143.11 55.82 L142.70 55.20 L142.70 60.36 L142.30 60.49 L141.90 60.16 L141.50 59.43 L141.09 58.44 L140.69 58.45 L140.29 59.44 L139.89 60.16 L139.48 60.49 L139.08 60.36 L138.68 59.80 L138.27 58.91 L137.87 57.96 L137.47 59.02 L137.07 59.88 L136.66 60.40 L136.26 60.48 L135.86 60.10 L135.46 59.35 L135.05 58.33 L134.65 58.55 L134.25 59.53 L133.85 60.21 L133.44 60.50 L133.04 60.32 L132.64 59.73 L132.23 58.81 L131.83 58.07 L131.43 59.11 L131.03 59.95 L130.62 60.42 L130.22 60.46 L129.82 60.04 L129.42 59.25 L129.01 58.23 L128.61 58.66 L128.21 59.61 L127.81 60.26 L127.40 60.50 L127.00 60.28 L126.60 59.65 L126.19 58.71 L125.79 58.18 L125.39 59.21 L124.99 60.01 L124.58 60.45 L124.18 60.44 L123.78 59.98 L123.38 59.16 L122.97 58.12 L122.57 58.76 L122.17 59.69 L121.77 60.31 L121.36 60.50 L120.96 60.24 L120.56 59.57 L120.15 58.60 L119.75 58.28 L119.35 59.30 L118.95 60.08 L118.54 60.47 L118.14 60.41 L117.74 59.91 L117.34 59.06 L116.93 58.01 L116.53 58.86 L116.13 59.77 L115.73 60.34 L115.32 60.49 L114.92 60.19 L114.52 59.48 L114.11 58.50 L113.71 58.39 L113.31 59.39 L112.91 60.13 L112.50 60.48 L112.10 60.38 L111.70 59.84 L111.30 58.96 L110.89 57.90 L110.89 56.74 L110.49 56.26 L110.09 55.61 L109.68 54.84 L109.28 55.15 L108.88 55.88 L108.47 56.47 L108.07 56.86 L107.67 57.00 L107.26 56.88 L106.86 56.51 L106.46 55.93 L106.05 55.21 L105.65 54.78 L105.25 55.55 L104.84 56.22 L104.44 56.71 L104.04 56.97 L103.63 56.97 L103.23 56.71 L102.83 56.23 L102.42 55.56 L102.02 54.79 L101.62 55.20 L101.21 55.92 L100.81 56.50 L100.40 56.87 L100.00 57.00 L99.60 56.86 L99.19 56.48 L98.79 55.89 L98.39 55.16 L97.98 54.83 L97.58 55.59 L97.18 56.25 L96.77 56.73 L96.37 56.97 L95.97 56.96 L95.56 56.69 L95.16 56.19 L94.76 55.52 L94.35 54.75 L93.95 55.24 L93.55 55.96 L93.14 56.53 L92.74 56.89 L92.34 57.00 L91.93 56.85 L91.53 56.45 L91.13 55.85 L90.72 55.12 L90.32 54.88 L89.92 55.64 L89.51 56.29 L89.11 56.75 L88.71 56.98 L88.30 56.95 L87.90 56.66 L87.50 56.15 L87.09 55.47 L86.69 54.70 L86.29 55.29 L85.88 56.00 L85.48 56.56 L85.08 56.90 L84.67 57.00 L84.27 56.83 L83.87 56.42 L83.46 55.81 L83.06 55.07 L82.66 54.92 L82.25 55.68 L81.85 56.32 L81.44 56.77 L81.04 56.99 L80.64 56.94 L80.23 56.64 L79.83 56.12 L79.43 55.43 L79.02 54.65 L78.62 55.34 L78.22 56.04 L77.81 56.59 L77.41 56.92 L77.01 56.99 L76.60 56.81 L76.20 56.39 L75.80 55.77 L75.39 55.02 L74.99 54.97 L74.59 55.72 L74.18 56.35 L73.78 56.79 L73.38 56.99 L72.97 56.93 L72.57 56.61 L72.17 56.08 L71.76 55.38 L71.36 54.60Z" fill="#FA5109"/>
<line x1="70.38" y1="67.90" x2="535.00" y2="67.90" stroke="#FFB000" stroke-width="1.3"/>
<rect x="110.56" y="63.10" width="32.54" height="10.10" rx="1.30" fill="#FFB000"/>
<rect x="220.91" y="66.00" width="31.46" height="3.80" rx="1.30" fill="#FFB000"/>
<path d="M69.68 40.40 L71.28 40.40 L71.48 57.90 L71.83 60.34 L72.18 62.19 L72.53 63.58 L72.88 64.64 L73.23 65.43 L73.58 66.04 L73.93 66.49 L74.28 66.84 L74.63 67.10 L74.98 67.29 L75.33 67.44 L75.68 67.55 L75.68 68.35 L75.33 68.50 L74.98 68.69 L74.63 68.95 L74.28 69.28 L73.93 69.73 L73.58 70.32 L73.23 71.11 L72.88 72.14 L72.53 73.51 L72.18 75.33 L71.83 77.73 L71.48 80.90 L71.38 81.40 L69.68 81.40 Z" fill="#FFB000"/>
<path d="M181.40 47.00 L183.00 47.00 L183.20 57.90 L183.55 60.34 L183.90 62.19 L184.25 63.58 L184.60 64.64 L184.95 65.43 L185.30 66.04 L185.65 66.49 L186.00 66.84 L186.35 67.10 L186.70 67.29 L187.05 67.44 L187.40 67.55 L187.40 68.35 L187.05 68.50 L186.70 68.69 L186.35 68.95 L186.00 69.28 L185.65 69.73 L185.30 70.32 L184.95 71.11 L184.60 72.14 L184.25 73.51 L183.90 75.33 L183.55 77.73 L183.20 80.90 L183.10 81.40 L181.40 81.40 Z" fill="#FFB000"/>
<path d="M299.11 65.10 L302.91 67.90 L299.11 70.70 Z" fill="#FFB000"/>
<line x1="478.50" y1="30.70" x2="478.50" y2="64.90" stroke="#000" stroke-width="0.9"/>
<path d="M476.40 63.00 L480.60 63.00 L478.50 67.10 Z" fill="#000"/>
<line x1="486.10" y1="30.70" x2="486.10" y2="46.20" stroke="#000" stroke-width="0.9"/>
<path d="M484.00 44.30 L488.20 44.30 L486.10 48.40 Z" fill="#000"/>
<rect x="66.26" y="25.40" width="9.02" height="55.60" fill="none" stroke="#6a6a6a" stroke-width="1.0"/>
<rect x="178.38" y="25.40" width="9.41" height="55.60" fill="none" stroke="#6a6a6a" stroke-width="1.0"/>
<rect x="295.78" y="25.40" width="9.21" height="55.60" fill="none" stroke="#6a6a6a" stroke-width="1.0"/>
<text x="60.00" y="53.60" font-size="10.40" text-anchor="end" >2.5</text>
<text x="60.00" y="84.30" font-size="10.40" text-anchor="end" >2</text>
<text x="103.70" y="96.20" font-size="10.40" text-anchor="middle" >2</text>
<text x="142.90" y="96.20" font-size="10.40" text-anchor="middle" >4</text>
<text x="182.10" y="96.20" font-size="10.40" text-anchor="middle" >6</text>
<text x="221.30" y="96.20" font-size="10.40" text-anchor="middle" >8</text>
<text x="260.50" y="96.20" font-size="10.40" text-anchor="middle" >10</text>
<text x="299.70" y="96.20" font-size="10.40" text-anchor="middle" >12</text>
<text x="338.90" y="96.20" font-size="10.40" text-anchor="middle" >14</text>
<text x="378.10" y="96.20" font-size="10.40" text-anchor="middle" >16</text>
<text x="417.30" y="96.20" font-size="10.40" text-anchor="middle" >18</text>
<text x="456.50" y="96.20" font-size="10.40" text-anchor="middle" >20</text>
<text x="495.70" y="96.20" font-size="10.40" text-anchor="middle" >22</text>
<text x="534.90" y="96.20" font-size="10.40" text-anchor="middle" >24</text>
<text x="64.6" y="18.80" font-size="10.40"><tspan font-size="14.2" dy="1.1">×</tspan><tspan x="73.7" dy="-1.1">10</tspan><tspan dy="-6.0" dx="0.1" font-size="8.90">4</tspan></text>
<text x="91.50" y="28.50" font-size="10.40" text-anchor="middle" >(a)</text>
<text transform="translate(18.20 50.90) rotate(-90)" font-size="11.20" text-anchor="middle">Bx(a.u)</text>
<rect x="64.50" y="107.30" width="470.50" height="60.60" fill="none" stroke="#adadad" stroke-width="1.1"/>
<rect x="64.0" y="107.30" width="2.9" height="60.60" fill="#d9d9d9"/>
<path d="M103.70 167.90v-4.4M103.70 107.30v4.4M142.90 167.90v-4.4M142.90 107.30v4.4M182.10 167.90v-4.4M182.10 107.30v4.4M221.30 167.90v-4.4M221.30 107.30v4.4M260.50 167.90v-4.4M260.50 107.30v4.4M299.70 167.90v-4.4M299.70 107.30v4.4M338.90 167.90v-4.4M338.90 107.30v4.4M378.10 167.90v-4.4M378.10 107.30v4.4M417.30 167.90v-4.4M417.30 107.30v4.4M456.50 167.90v-4.4M456.50 107.30v4.4M495.70 167.90v-4.4M495.70 107.30v4.4M64.50 134.40h4.3M535.00 134.40h-4.3M64.50 165.30h4.3M535.00 165.30h-4.3" stroke="#8c8c8c" stroke-width="0.9" fill="none"/>
<line x1="64.50" y1="115.50" x2="535.00" y2="115.50" stroke="#0072C3" stroke-width="1.3"/>
<rect x="110.56" y="111.50" width="32.54" height="8.10" rx="1.30" fill="#0072C3"/>
<rect x="338.12" y="113.60" width="33.12" height="4.00" rx="1.30" fill="#0072C3"/>
<text x="490.30" y="126.50" font-size="10.00" text-anchor="start" >-3,000 nT</text>
<text x="480.60" y="148.50" font-size="10.00" text-anchor="start" >-6,000 nT</text>
<line x1="64.50" y1="134.40" x2="71.56" y2="134.40" stroke="#FA5109" stroke-width="1.2"/>
<path d="M70.97 132.00 L71.37 131.65 L71.77 131.33 L72.18 131.09 L72.58 130.94 L72.98 130.90 L73.39 130.98 L73.79 131.16 L74.19 131.43 L74.60 131.76 L75.00 131.88 L75.40 131.54 L75.81 131.24 L76.21 131.03 L76.61 130.91 L77.02 130.91 L77.42 131.03 L77.82 131.24 L78.23 131.54 L78.63 131.88 L79.03 131.77 L79.44 131.44 L79.84 131.16 L80.24 130.98 L80.65 130.90 L81.05 130.94 L81.45 131.09 L81.86 131.33 L82.26 131.64 L82.66 132.00 L83.07 131.65 L83.47 131.34 L83.87 131.09 L84.28 130.94 L84.68 130.90 L85.08 130.98 L85.49 131.16 L85.89 131.43 L86.29 131.76 L86.70 131.89 L87.10 131.54 L87.50 131.25 L87.91 131.03 L88.31 130.92 L88.71 130.91 L89.12 131.03 L89.52 131.24 L89.92 131.53 L90.33 131.87 L90.73 131.77 L91.13 131.44 L91.54 131.17 L91.94 130.98 L92.34 130.90 L92.75 130.94 L93.15 131.09 L93.55 131.33 L93.96 131.64 L94.36 131.99 L94.76 131.66 L95.17 131.34 L95.57 131.09 L95.97 130.94 L96.37 130.90 L96.78 130.97 L97.18 131.16 L97.58 131.42 L97.99 131.75 L98.39 131.89 L98.79 131.55 L99.20 131.25 L99.60 131.03 L100.00 130.92 L100.41 130.91 L100.81 131.02 L101.21 131.24 L101.62 131.53 L102.02 131.87 L102.42 131.77 L102.83 131.44 L103.23 131.17 L103.63 130.98 L104.04 130.90 L104.44 130.94 L104.84 131.08 L105.25 131.32 L105.65 131.64 L106.05 131.99 L106.46 131.66 L106.86 131.34 L107.26 131.10 L107.67 130.94 L108.07 130.90 L108.47 130.97 L108.88 131.15 L109.28 131.42 L109.68 131.75 L110.09 131.90 L110.49 131.55 L110.89 131.25 L110.89 130.40 L111.30 129.90 L111.70 129.44 L112.10 129.09 L112.50 128.87 L112.91 128.80 L113.31 128.90 L113.71 129.15 L114.11 129.52 L114.52 129.99 L114.92 130.30 L115.32 129.80 L115.73 129.37 L116.13 129.04 L116.53 128.84 L116.93 128.81 L117.34 128.93 L117.74 129.21 L118.14 129.61 L118.54 130.08 L118.95 130.21 L119.35 129.72 L119.75 129.29 L120.15 128.99 L120.56 128.82 L120.96 128.82 L121.36 128.98 L121.77 129.28 L122.17 129.69 L122.57 130.18 L122.97 130.11 L123.38 129.63 L123.78 129.23 L124.18 128.94 L124.58 128.81 L124.99 128.84 L125.39 129.02 L125.79 129.35 L126.19 129.78 L126.60 130.28 L127.00 130.01 L127.40 129.54 L127.81 129.16 L128.21 128.91 L128.61 128.80 L129.01 128.86 L129.42 129.07 L129.82 129.42 L130.22 129.87 L130.62 130.38 L131.03 129.92 L131.43 129.46 L131.83 129.10 L132.23 128.87 L132.64 128.80 L133.04 128.89 L133.44 129.13 L133.85 129.50 L134.25 129.97 L134.65 130.33 L135.05 129.83 L135.46 129.39 L135.86 129.05 L136.26 128.85 L136.66 128.80 L137.07 128.92 L137.47 129.19 L137.87 129.59 L138.27 130.06 L138.68 130.23 L139.08 129.74 L139.48 129.31 L139.89 129.00 L140.29 128.83 L140.69 128.82 L141.09 128.96 L141.50 129.26 L141.90 129.67 L142.30 130.16 L142.70 130.13 L142.70 132.00 L143.11 131.72 L143.51 131.47 L143.91 131.27 L144.31 131.14 L144.71 131.10 L145.11 131.15 L145.51 131.28 L145.91 131.48 L146.31 131.73 L146.72 131.99 L147.12 131.71 L147.52 131.46 L147.92 131.27 L148.32 131.14 L148.72 131.10 L149.12 131.15 L149.52 131.28 L149.92 131.48 L150.33 131.74 L150.73 131.98 L151.13 131.71 L151.53 131.46 L151.93 131.26 L152.33 131.14 L152.73 131.10 L153.13 131.15 L153.53 131.28 L153.94 131.49 L154.34 131.74 L154.74 131.98 L155.14 131.70 L155.54 131.45 L155.94 131.26 L156.34 131.14 L156.74 131.10 L157.14 131.15 L157.55 131.29 L157.95 131.50 L158.35 131.75 L158.75 131.97 L159.15 131.69 L159.55 131.44 L159.95 131.25 L160.35 131.13 L160.75 131.10 L161.16 131.16 L161.56 131.29 L161.96 131.50 L162.36 131.76 L162.76 131.96 L163.16 131.68 L163.56 131.44 L163.96 131.25 L164.36 131.13 L164.77 131.10 L165.17 131.16 L165.57 131.30 L165.97 131.51 L166.37 131.77 L166.77 131.95 L167.17 131.68 L167.57 131.43 L167.97 131.24 L168.38 131.13 L168.78 131.10 L169.18 131.16 L169.58 131.30 L169.98 131.52 L170.38 131.77 L170.78 131.94 L171.18 131.67 L171.58 131.43 L171.99 131.24 L172.39 131.13 L172.79 131.10 L173.19 131.16 L173.59 131.31 L173.99 131.52 L174.39 131.78 L174.79 131.94 L175.19 131.66 L175.60 131.42 L176.00 131.24 L176.40 131.13 L176.80 131.10 L177.20 131.17 L177.20 131.75 L177.60 131.60 L178.00 131.51 L178.40 131.51 L178.80 131.60 L179.20 131.75 L179.60 131.60 L180.00 131.51 L180.40 131.51 L180.80 131.60 L181.20 131.75 L181.60 131.60 L182.00 131.51 L182.40 131.51 L182.80 131.60 L183.20 131.75 L183.61 131.60 L184.01 131.51 L184.41 131.51 L184.81 131.61 L185.21 131.75 L185.61 131.60 L186.01 131.51 L186.41 131.51 L186.81 131.61 L187.21 131.75 L187.61 131.60 L188.01 131.51 L188.41 131.51 L188.81 131.61 L189.21 131.75 L189.61 131.60 L190.01 131.51 L190.41 131.51 L190.81 131.61 L191.21 131.75 L191.61 131.60 L192.01 131.51 L192.41 131.51 L192.81 131.61 L193.21 131.74 L193.61 131.60 L194.01 131.51 L194.41 131.51 L194.81 131.61 L195.21 131.74 L195.62 131.60 L196.02 131.51 L196.42 131.51 L196.82 131.61 L197.22 131.74 L197.62 131.60 L198.02 131.51 L198.42 131.51 L198.82 131.61 L199.22 131.74 L199.62 131.60 L200.02 131.51 L200.42 131.51 L200.82 131.61 L201.22 131.74 L201.62 131.60 L202.02 131.51 L202.42 131.51 L202.82 131.61 L203.22 131.74 L203.62 131.60 L204.02 131.51 L204.42 131.52 L204.82 131.61 L205.22 131.74 L205.62 131.60 L206.02 131.51 L206.42 131.52 L206.82 131.61 L207.22 131.74 L207.62 131.60 L208.03 131.51 L208.43 131.52 L208.83 131.61 L209.23 131.74 L209.63 131.59 L210.03 131.51 L210.43 131.52 L210.83 131.61 L211.23 131.74 L211.63 131.59 L212.03 131.51 L212.43 131.52 L212.83 131.61 L213.23 131.74 L213.63 131.59 L214.03 131.51 L214.43 131.52 L214.83 131.61 L215.23 131.74 L215.63 131.59 L216.03 131.51 L216.43 131.52 L216.83 131.61 L217.23 131.74 L217.63 131.59 L218.03 131.51 L218.43 131.52 L218.83 131.61 L219.23 131.74 L219.63 131.59 L220.03 131.51 L220.44 131.52 L220.84 131.61 L221.24 131.74 L221.64 131.59 L222.04 131.51 L222.44 131.52 L222.84 131.62 L223.24 131.74 L223.64 131.59 L224.04 131.51 L224.44 131.52 L224.84 131.62 L225.24 131.73 L225.64 131.59 L226.04 131.51 L226.44 131.52 L226.84 131.62 L227.24 131.73 L227.64 131.59 L228.04 131.51 L228.44 131.52 L228.84 131.62 L229.24 131.73 L229.64 131.59 L230.04 131.51 L230.44 131.52 L230.84 131.62 L231.24 131.73 L231.64 131.59 L232.04 131.51 L232.45 131.52 L232.85 131.62 L233.25 131.73 L233.65 131.59 L234.05 131.51 L234.45 131.52 L234.85 131.62 L235.25 131.73 L235.65 131.59 L236.05 131.51 L236.45 131.52 L236.85 131.62 L237.25 131.73 L237.65 131.59 L238.05 131.51 L238.45 131.52 L238.85 131.62 L239.25 131.73 L239.65 131.59 L240.05 131.51 L240.45 131.52 L240.85 131.62 L241.25 131.73 L241.65 131.59 L242.05 131.51 L242.45 131.52 L242.85 131.62 L243.25 131.73 L243.65 131.59 L244.05 131.51 L244.45 131.52 L244.86 131.62 L245.26 131.73 L245.66 131.59 L246.06 131.51 L246.46 131.52 L246.86 131.62 L247.26 131.73 L247.66 131.59 L248.06 131.51 L248.46 131.52 L248.86 131.62 L249.26 131.73 L249.66 131.58 L250.06 131.51 L250.46 131.52 L250.86 131.62 L251.26 131.73 L251.66 131.58 L252.06 131.51 L252.46 131.52 L252.86 131.62 L253.26 131.73 L253.66 131.58 L254.06 131.51 L254.46 131.52 L254.86 131.62 L255.26 131.73 L255.66 131.58 L256.06 131.51 L256.46 131.52 L256.87 131.62 L257.27 131.72 L257.67 131.58 L258.07 131.51 L258.47 131.52 L258.87 131.62 L259.27 131.72 L259.67 131.58 L260.07 131.51 L260.47 131.52 L260.87 131.63 L261.27 131.72 L261.67 131.58 L262.07 131.51 L262.47 131.52 L262.87 131.63 L263.27 131.72 L263.67 131.58 L264.07 131.51 L264.47 131.52 L264.87 131.63 L265.27 131.72 L265.67 131.58 L266.07 131.50 L266.47 131.52 L266.87 131.63 L267.27 131.72 L267.67 131.58 L268.07 131.50 L268.47 131.52 L268.87 131.63 L269.28 131.72 L269.68 131.58 L270.08 131.50 L270.48 131.52 L270.88 131.63 L271.28 131.72 L271.68 131.58 L272.08 131.50 L272.48 131.52 L272.88 131.63 L273.28 131.72 L273.68 131.58 L274.08 131.50 L274.48 131.52 L274.88 131.63 L275.28 131.72 L275.68 131.58 L276.08 131.50 L276.48 131.52 L276.88 131.63 L277.28 131.72 L277.68 131.58 L278.08 131.50 L278.48 131.52 L278.88 131.63 L279.28 131.72 L279.68 131.58 L280.08 131.50 L280.48 131.52 L280.88 131.63 L281.28 131.72 L281.69 131.58 L282.09 131.50 L282.49 131.52 L282.89 131.63 L283.29 131.72 L283.69 131.58 L284.09 131.50 L284.49 131.53 L284.89 131.63 L285.29 131.72 L285.69 131.58 L286.09 131.50 L286.49 131.53 L286.89 131.63 L287.29 131.71 L287.69 131.58 L288.09 131.50 L288.49 131.53 L288.89 131.63 L289.29 131.71 L289.69 131.58 L290.09 131.50 L290.49 131.53 L290.89 131.63 L291.29 131.71 L291.69 131.58 L292.09 131.50 L292.49 131.53 L292.89 131.63 L293.29 131.71 L293.70 131.57 L294.10 131.50 L294.50 131.53 L294.90 131.64 L295.30 131.71 L295.70 131.57 L296.10 131.50 L296.50 131.53 L296.90 131.64 L297.30 131.71 L297.70 131.57 L298.10 131.50 L298.50 131.53 L298.90 131.64 L299.30 131.71 L299.70 131.57 L299.70 130.85 L300.10 130.67 L300.50 130.60 L300.90 130.67 L301.30 130.85 L301.70 130.67 L302.10 130.60 L302.50 130.67 L302.90 130.85 L303.30 130.67 L303.70 130.60 L304.10 130.67 L304.50 130.85 L304.90 130.67 L305.30 130.60 L305.70 130.67 L306.10 130.85 L306.50 130.67 L306.90 130.60 L307.30 130.67 L307.70 130.85 L308.10 130.67 L308.50 130.60 L308.90 130.67 L309.30 130.85 L309.70 130.67 L310.10 130.60 L310.50 130.67 L310.90 130.85 L311.30 130.67 L311.71 130.60 L312.11 130.68 L312.51 130.85 L312.91 130.67 L313.31 130.60 L313.71 130.68 L314.11 130.85 L314.51 130.67 L314.91 130.60 L315.31 130.68 L315.71 130.85 L316.11 130.67 L316.51 130.60 L316.91 130.68 L317.31 130.85 L317.71 130.67 L318.11 130.60 L318.51 130.68 L318.91 130.85 L319.31 130.67 L319.71 130.60 L320.11 130.68 L320.51 130.85 L320.91 130.67 L321.31 130.60 L321.71 130.68 L322.11 130.85 L322.51 130.67 L322.91 130.60 L323.31 130.68 L323.71 130.85 L324.11 130.67 L324.51 130.60 L324.91 130.68 L325.31 130.84 L325.71 130.67 L326.11 130.60 L326.51 130.68 L326.91 130.84 L327.31 130.67 L327.71 130.60 L328.11 130.68 L328.51 130.84 L328.91 130.67 L329.31 130.60 L329.71 130.68 L330.11 130.84 L330.51 130.67 L330.91 130.60 L331.31 130.68 L331.71 130.84 L332.11 130.67 L332.51 130.60 L332.91 130.68 L333.31 130.84 L333.71 130.67 L334.11 130.60 L334.51 130.68 L334.91 130.84 L335.31 130.67 L335.72 130.60 L336.12 130.68 L336.52 130.84 L336.92 130.67 L337.32 130.60 L337.72 130.68 L338.12 130.84 L338.12 130.20 L338.52 129.96 L338.92 129.82 L339.33 129.82 L339.73 129.97 L340.14 130.19 L340.54 129.95 L340.94 129.81 L341.35 129.83 L341.75 129.98 L342.16 130.18 L342.56 129.94 L342.96 129.81 L343.37 129.83 L343.77 129.99 L344.18 130.16 L344.58 129.93 L344.98 129.81 L345.39 129.84 L345.79 130.00 L346.20 130.15 L346.60 129.92 L347.00 129.81 L347.41 129.84 L347.81 130.02 L348.21 130.14 L348.62 129.92 L349.02 129.80 L349.43 129.85 L349.83 130.03 L350.23 130.13 L350.64 129.91 L351.04 129.80 L351.45 129.85 L351.85 130.04 L352.25 130.11 L352.66 129.90 L353.06 129.80 L353.47 129.86 L353.87 130.05 L354.27 130.10 L354.68 129.89 L355.08 129.80 L355.49 129.87 L355.89 130.06 L356.29 130.09 L356.70 129.88 L357.10 129.80 L357.51 129.87 L357.91 130.07 L358.31 130.08 L358.72 129.88 L359.12 129.80 L359.53 129.88 L359.93 130.08 L360.33 130.07 L360.74 129.87 L361.14 129.80 L361.55 129.89 L361.95 130.10 L362.35 130.05 L362.76 129.86 L363.16 129.80 L363.56 129.90 L363.97 130.11 L364.37 130.04 L364.78 129.86 L365.18 129.80 L365.58 129.90 L365.99 130.12 L366.39 130.03 L366.80 129.85 L367.20 129.80 L367.60 129.91 L368.01 130.13 L368.41 130.02 L368.82 129.84 L369.22 129.81 L369.62 129.92 L370.03 130.14 L370.43 130.01 L370.84 129.84 L371.24 129.81 L371.24 130.85 L371.64 130.67 L372.04 130.60 L372.44 130.67 L372.84 130.85 L373.24 130.67 L373.64 130.60 L374.04 130.67 L374.44 130.85 L374.84 130.67 L375.24 130.60 L375.64 130.67 L376.04 130.85 L376.44 130.67 L376.84 130.60 L377.24 130.67 L377.64 130.85 L378.04 130.67 L378.44 130.60 L378.84 130.67 L379.24 130.85 L379.64 130.67 L380.04 130.60 L380.44 130.67 L380.84 130.85 L381.24 130.67 L381.64 130.60 L382.04 130.67 L382.44 130.85 L382.84 130.67 L383.24 130.60 L383.64 130.67 L384.04 130.85 L384.44 130.67 L384.84 130.60 L385.25 130.68 L385.65 130.85 L386.05 130.67 L386.45 130.60 L386.85 130.68 L387.25 130.85 L387.65 130.67 L388.05 130.60 L388.45 130.68 L388.85 130.85 L389.25 130.67 L389.65 130.60 L390.05 130.68 L390.45 130.85 L390.85 130.67 L391.25 130.60 L391.65 130.68 L392.05 130.85 L392.45 130.67 L392.85 130.60 L393.25 130.68 L393.65 130.85 L394.05 130.67 L394.45 130.60 L394.85 130.68 L395.25 130.85 L395.65 130.67 L396.05 130.60 L396.45 130.68 L396.85 130.85 L397.25 130.67 L397.65 130.60 L398.05 130.68 L398.45 130.85 L398.85 130.67 L399.25 130.60 L399.65 130.68 L400.05 130.84 L400.45 130.67 L400.85 130.60 L401.25 130.68 L401.65 130.84 L402.05 130.67 L402.45 130.60 L402.85 130.68 L403.25 130.84 L403.65 130.67 L404.05 130.60 L404.45 130.68 L404.85 130.84 L405.25 130.67 L405.65 130.60 L406.05 130.68 L406.45 130.84 L406.85 130.67 L407.25 130.60 L407.65 130.68 L408.05 130.84 L408.45 130.67 L408.85 130.60 L409.25 130.68 L409.65 130.84 L410.05 130.67 L410.45 130.60 L410.85 130.68 L411.25 130.84 L411.65 130.67 L412.05 130.60 L412.46 130.68 L412.86 130.84 L413.26 130.67 L413.66 130.60 L414.06 130.68 L414.46 130.84 L414.86 130.67 L415.26 130.60 L415.66 130.68 L416.06 130.84 L416.46 130.67 L416.86 130.60 L417.26 130.68 L417.66 130.84 L418.06 130.67 L418.46 130.60 L418.86 130.68 L419.26 130.84 L419.66 130.67 L420.06 130.60 L420.46 130.68 L420.86 130.84 L421.26 130.67 L421.66 130.60 L422.06 130.68 L422.46 130.84 L422.86 130.67 L423.26 130.60 L423.66 130.68 L424.06 130.84 L424.46 130.67 L424.86 130.60 L425.26 130.68 L425.66 130.84 L426.06 130.67 L426.46 130.60 L426.86 130.68 L427.26 130.84 L427.66 130.67 L428.06 130.60 L428.46 130.68 L428.86 130.84 L429.26 130.67 L429.66 130.60 L430.06 130.68 L430.46 130.84 L430.86 130.67 L431.26 130.60 L431.66 130.68 L432.06 130.84 L432.46 130.67 L432.86 130.60 L433.26 130.68 L433.66 130.84 L434.06 130.67 L434.46 130.60 L434.86 130.68 L435.26 130.84 L435.66 130.67 L436.06 130.60 L436.46 130.68 L436.86 130.84 L437.26 130.67 L437.66 130.60 L438.06 130.68 L438.46 130.84 L438.86 130.66 L439.26 130.60 L439.67 130.68 L440.07 130.84 L440.47 130.66 L440.87 130.60 L441.27 130.68 L441.67 130.84 L442.07 130.66 L442.47 130.60 L442.87 130.68 L443.27 130.84 L443.67 130.66 L444.07 130.60 L444.47 130.68 L444.87 130.84 L445.27 130.66 L445.67 130.60 L446.07 130.68 L446.47 130.84 L446.87 130.66 L447.27 130.60 L447.67 130.68 L448.07 130.84 L448.47 130.66 L448.87 130.60 L449.27 130.68 L449.67 130.84 L450.07 130.66 L450.47 130.60 L450.87 130.68 L451.27 130.84 L451.67 130.66 L452.07 130.60 L452.47 130.68 L452.87 130.84 L453.27 130.66 L453.67 130.60 L454.07 130.68 L454.47 130.84 L454.87 130.66 L455.27 130.60 L455.67 130.68 L456.07 130.83 L456.47 130.66 L456.87 130.60 L457.27 130.68 L457.67 130.83 L458.07 130.66 L458.47 130.60 L458.87 130.68 L459.27 130.83 L459.67 130.66 L460.07 130.60 L460.47 130.68 L460.87 130.83 L461.27 130.66 L461.67 130.60 L462.07 130.69 L462.47 130.83 L462.87 130.66 L463.27 130.60 L463.67 130.69 L464.07 130.83 L464.47 130.66 L464.87 130.60 L465.27 130.69 L465.67 130.83 L466.07 130.66 L466.47 130.60 L466.88 130.69 L467.28 130.83 L467.68 130.66 L468.08 130.60 L468.48 130.69 L468.88 130.83 L469.28 130.66 L469.68 130.60 L470.08 130.69 L470.48 130.83 L470.88 130.66 L471.28 130.60 L471.68 130.69 L472.08 130.83 L472.48 130.66 L472.88 130.60 L473.28 130.69 L473.68 130.83 L474.08 130.66 L474.48 130.60 L474.88 130.69 L475.28 130.83 L475.68 130.66 L476.08 130.60 L476.48 130.69 L476.88 130.83 L477.28 130.66 L477.68 130.60 L478.08 130.69 L478.48 130.83 L478.88 130.66 L479.28 130.60 L479.68 130.69 L480.08 130.83 L480.48 130.66 L480.88 130.60 L481.28 130.69 L481.68 130.83 L482.08 130.66 L482.48 130.60 L482.88 130.69 L483.28 130.83 L483.68 130.66 L484.08 130.60 L484.48 130.69 L484.88 130.83 L485.28 130.66 L485.68 130.60 L486.08 130.69 L486.48 130.83 L486.88 130.66 L487.28 130.60 L487.68 130.69 L488.08 130.83 L488.48 130.66 L488.88 130.60 L489.28 130.69 L489.68 130.83 L490.08 130.66 L490.48 130.60 L490.88 130.69 L491.28 130.83 L491.68 130.66 L492.08 130.60 L492.48 130.69 L492.88 130.83 L493.28 130.66 L493.68 130.60 L494.09 130.69 L494.49 130.83 L494.89 130.66 L495.29 130.60 L495.69 130.69 L496.09 130.83 L496.49 130.66 L496.89 130.60 L497.29 130.69 L497.69 130.83 L498.09 130.66 L498.49 130.60 L498.89 130.69 L499.29 130.83 L499.69 130.66 L500.09 130.60 L500.49 130.69 L500.89 130.83 L501.29 130.66 L501.69 130.60 L502.09 130.69 L502.49 130.83 L502.89 130.66 L503.29 130.60 L503.69 130.69 L504.09 130.83 L504.49 130.66 L504.89 130.60 L505.29 130.69 L505.69 130.83 L506.09 130.66 L506.49 130.60 L506.89 130.69 L507.29 130.83 L507.69 130.66 L508.09 130.60 L508.49 130.69 L508.89 130.83 L509.29 130.66 L509.69 130.60 L510.09 130.69 L510.49 130.82 L510.89 130.66 L511.29 130.60 L511.69 130.69 L512.09 130.82 L512.49 130.66 L512.89 130.60 L513.29 130.69 L513.69 130.82 L514.09 130.66 L514.49 130.60 L514.89 130.69 L515.29 130.82 L515.69 130.66 L516.09 130.60 L516.49 130.69 L516.89 130.82 L517.29 130.66 L517.69 130.60 L518.09 130.69 L518.49 130.82 L518.89 130.66 L519.29 130.60 L519.69 130.69 L520.09 130.82 L520.49 130.66 L520.89 130.60 L521.30 130.69 L521.70 130.82 L522.10 130.66 L522.50 130.60 L522.90 130.69 L523.30 130.82 L523.70 130.65 L524.10 130.60 L524.50 130.69 L524.90 130.82 L525.30 130.65 L525.70 130.60 L526.10 130.69 L526.50 130.82 L526.90 130.65 L527.30 130.60 L527.70 130.69 L528.10 130.82 L528.50 130.65 L528.90 130.60 L529.30 130.69 L529.70 130.82 L530.10 130.65 L530.50 130.60 L530.90 130.69 L531.30 130.82 L531.70 130.65 L532.10 130.60 L532.50 130.69 L532.90 130.82 L533.30 130.65 L533.70 130.60 L534.10 130.70 L534.50 130.82 L534.90 130.65 L534.90 137.95 L534.50 137.78 L534.10 137.90 L533.70 138.00 L533.30 137.95 L532.90 137.78 L532.50 137.91 L532.10 138.00 L531.70 137.95 L531.30 137.78 L530.90 137.91 L530.50 138.00 L530.10 137.95 L529.70 137.78 L529.30 137.91 L528.90 138.00 L528.50 137.95 L528.10 137.78 L527.70 137.91 L527.30 138.00 L526.90 137.95 L526.50 137.78 L526.10 137.91 L525.70 138.00 L525.30 137.95 L524.90 137.78 L524.50 137.91 L524.10 138.00 L523.70 137.95 L523.30 137.78 L522.90 137.91 L522.50 138.00 L522.10 137.94 L521.70 137.78 L521.30 137.91 L520.89 138.00 L520.49 137.94 L520.09 137.78 L519.69 137.91 L519.29 138.00 L518.89 137.94 L518.49 137.78 L518.09 137.91 L517.69 138.00 L517.29 137.94 L516.89 137.78 L516.49 137.91 L516.09 138.00 L515.69 137.94 L515.29 137.78 L514.89 137.91 L514.49 138.00 L514.09 137.94 L513.69 137.78 L513.29 137.91 L512.89 138.00 L512.49 137.94 L512.09 137.78 L511.69 137.91 L511.29 138.00 L510.89 137.94 L510.49 137.78 L510.09 137.91 L509.69 138.00 L509.29 137.94 L508.89 137.77 L508.49 137.91 L508.09 138.00 L507.69 137.94 L507.29 137.77 L506.89 137.91 L506.49 138.00 L506.09 137.94 L505.69 137.77 L505.29 137.91 L504.89 138.00 L504.49 137.94 L504.09 137.77 L503.69 137.91 L503.29 138.00 L502.89 137.94 L502.49 137.77 L502.09 137.91 L501.69 138.00 L501.29 137.94 L500.89 137.77 L500.49 137.91 L500.09 138.00 L499.69 137.94 L499.29 137.77 L498.89 137.91 L498.49 138.00 L498.09 137.94 L497.69 137.77 L497.29 137.91 L496.89 138.00 L496.49 137.94 L496.09 137.77 L495.69 137.91 L495.29 138.00 L494.89 137.94 L494.49 137.77 L494.09 137.91 L493.68 138.00 L493.28 137.94 L492.88 137.77 L492.48 137.91 L492.08 138.00 L491.68 137.94 L491.28 137.77 L490.88 137.91 L490.48 138.00 L490.08 137.94 L489.68 137.77 L489.28 137.91 L488.88 138.00 L488.48 137.94 L488.08 137.77 L487.68 137.91 L487.28 138.00 L486.88 137.94 L486.48 137.77 L486.08 137.91 L485.68 138.00 L485.28 137.94 L484.88 137.77 L484.48 137.91 L484.08 138.00 L483.68 137.94 L483.28 137.77 L482.88 137.91 L482.48 138.00 L482.08 137.94 L481.68 137.77 L481.28 137.91 L480.88 138.00 L480.48 137.94 L480.08 137.77 L479.68 137.91 L479.28 138.00 L478.88 137.94 L478.48 137.77 L478.08 137.91 L477.68 138.00 L477.28 137.94 L476.88 137.77 L476.48 137.91 L476.08 138.00 L475.68 137.94 L475.28 137.77 L474.88 137.91 L474.48 138.00 L474.08 137.94 L473.68 137.77 L473.28 137.91 L472.88 138.00 L472.48 137.94 L472.08 137.77 L471.68 137.91 L471.28 138.00 L470.88 137.94 L470.48 137.77 L470.08 137.91 L469.68 138.00 L469.28 137.94 L468.88 137.77 L468.48 137.91 L468.08 138.00 L467.68 137.94 L467.28 137.77 L466.88 137.91 L466.47 138.00 L466.07 137.94 L465.67 137.77 L465.27 137.91 L464.87 138.00 L464.47 137.94 L464.07 137.77 L463.67 137.91 L463.27 138.00 L462.87 137.94 L462.47 137.77 L462.07 137.91 L461.67 138.00 L461.27 137.94 L460.87 137.77 L460.47 137.92 L460.07 138.00 L459.67 137.94 L459.27 137.77 L458.87 137.92 L458.47 138.00 L458.07 137.94 L457.67 137.77 L457.27 137.92 L456.87 138.00 L456.47 137.94 L456.07 137.77 L455.67 137.92 L455.27 138.00 L454.87 137.94 L454.47 137.76 L454.07 137.92 L453.67 138.00 L453.27 137.94 L452.87 137.76 L452.47 137.92 L452.07 138.00 L451.67 137.94 L451.27 137.76 L450.87 137.92 L450.47 138.00 L450.07 137.94 L449.67 137.76 L449.27 137.92 L448.87 138.00 L448.47 137.94 L448.07 137.76 L447.67 137.92 L447.27 138.00 L446.87 137.94 L446.47 137.76 L446.07 137.92 L445.67 138.00 L445.27 137.94 L444.87 137.76 L444.47 137.92 L444.07 138.00 L443.67 137.94 L443.27 137.76 L442.87 137.92 L442.47 138.00 L442.07 137.94 L441.67 137.76 L441.27 137.92 L440.87 138.00 L440.47 137.94 L440.07 137.76 L439.67 137.92 L439.26 138.00 L438.86 137.94 L438.46 137.76 L438.06 137.92 L437.66 138.00 L437.26 137.93 L436.86 137.76 L436.46 137.92 L436.06 138.00 L435.66 137.93 L435.26 137.76 L434.86 137.92 L434.46 138.00 L434.06 137.93 L433.66 137.76 L433.26 137.92 L432.86 138.00 L432.46 137.93 L432.06 137.76 L431.66 137.92 L431.26 138.00 L430.86 137.93 L430.46 137.76 L430.06 137.92 L429.66 138.00 L429.26 137.93 L428.86 137.76 L428.46 137.92 L428.06 138.00 L427.66 137.93 L427.26 137.76 L426.86 137.92 L426.46 138.00 L426.06 137.93 L425.66 137.76 L425.26 137.92 L424.86 138.00 L424.46 137.93 L424.06 137.76 L423.66 137.92 L423.26 138.00 L422.86 137.93 L422.46 137.76 L422.06 137.92 L421.66 138.00 L421.26 137.93 L420.86 137.76 L420.46 137.92 L420.06 138.00 L419.66 137.93 L419.26 137.76 L418.86 137.92 L418.46 138.00 L418.06 137.93 L417.66 137.76 L417.26 137.92 L416.86 138.00 L416.46 137.93 L416.06 137.76 L415.66 137.92 L415.26 138.00 L414.86 137.93 L414.46 137.76 L414.06 137.92 L413.66 138.00 L413.26 137.93 L412.86 137.76 L412.46 137.92 L412.05 138.00 L411.65 137.93 L411.25 137.76 L410.85 137.92 L410.45 138.00 L410.05 137.93 L409.65 137.76 L409.25 137.92 L408.85 138.00 L408.45 137.93 L408.05 137.76 L407.65 137.92 L407.25 138.00 L406.85 137.93 L406.45 137.76 L406.05 137.92 L405.65 138.00 L405.25 137.93 L404.85 137.76 L404.45 137.92 L404.05 138.00 L403.65 137.93 L403.25 137.76 L402.85 137.92 L402.45 138.00 L402.05 137.93 L401.65 137.76 L401.25 137.92 L400.85 138.00 L400.45 137.93 L400.05 137.76 L399.65 137.92 L399.25 138.00 L398.85 137.93 L398.45 137.75 L398.05 137.92 L397.65 138.00 L397.25 137.93 L396.85 137.75 L396.45 137.92 L396.05 138.00 L395.65 137.93 L395.25 137.75 L394.85 137.92 L394.45 138.00 L394.05 137.93 L393.65 137.75 L393.25 137.92 L392.85 138.00 L392.45 137.93 L392.05 137.75 L391.65 137.92 L391.25 138.00 L390.85 137.93 L390.45 137.75 L390.05 137.92 L389.65 138.00 L389.25 137.93 L388.85 137.75 L388.45 137.92 L388.05 138.00 L387.65 137.93 L387.25 137.75 L386.85 137.92 L386.45 138.00 L386.05 137.93 L385.65 137.75 L385.25 137.92 L384.84 138.00 L384.44 137.93 L384.04 137.75 L383.64 137.93 L383.24 138.00 L382.84 137.93 L382.44 137.75 L382.04 137.93 L381.64 138.00 L381.24 137.93 L380.84 137.75 L380.44 137.93 L380.04 138.00 L379.64 137.93 L379.24 137.75 L378.84 137.93 L378.44 138.00 L378.04 137.93 L377.64 137.75 L377.24 137.93 L376.84 138.00 L376.44 137.93 L376.04 137.75 L375.64 137.93 L375.24 138.00 L374.84 137.93 L374.44 137.75 L374.04 137.93 L373.64 138.00 L373.24 137.93 L372.84 137.75 L372.44 137.93 L372.04 138.00 L371.64 137.93 L371.24 137.75 L371.24 138.89 L370.84 138.86 L370.43 138.69 L370.03 138.56 L369.62 138.78 L369.22 138.89 L368.82 138.86 L368.41 138.68 L368.01 138.57 L367.60 138.79 L367.20 138.90 L366.80 138.85 L366.39 138.67 L365.99 138.58 L365.58 138.80 L365.18 138.90 L364.78 138.84 L364.37 138.66 L363.97 138.59 L363.56 138.80 L363.16 138.90 L362.76 138.84 L362.35 138.65 L361.95 138.60 L361.55 138.81 L361.14 138.90 L360.74 138.83 L360.33 138.63 L359.93 138.62 L359.53 138.82 L359.12 138.90 L358.72 138.82 L358.31 138.62 L357.91 138.63 L357.51 138.83 L357.10 138.90 L356.70 138.82 L356.29 138.61 L355.89 138.64 L355.49 138.83 L355.08 138.90 L354.68 138.81 L354.27 138.60 L353.87 138.65 L353.47 138.84 L353.06 138.90 L352.66 138.80 L352.25 138.59 L351.85 138.66 L351.45 138.85 L351.04 138.90 L350.64 138.79 L350.23 138.57 L349.83 138.67 L349.43 138.85 L349.02 138.90 L348.62 138.78 L348.21 138.56 L347.81 138.68 L347.41 138.86 L347.00 138.89 L346.60 138.78 L346.20 138.55 L345.79 138.70 L345.39 138.86 L344.98 138.89 L344.58 138.77 L344.18 138.54 L343.77 138.71 L343.37 138.87 L342.96 138.89 L342.56 138.76 L342.16 138.52 L341.75 138.72 L341.35 138.87 L340.94 138.89 L340.54 138.75 L340.14 138.51 L339.73 138.73 L339.33 138.88 L338.92 138.88 L338.52 138.74 L338.12 138.50 L338.12 137.76 L337.72 137.92 L337.32 138.00 L336.92 137.93 L336.52 137.76 L336.12 137.92 L335.72 138.00 L335.31 137.93 L334.91 137.76 L334.51 137.92 L334.11 138.00 L333.71 137.93 L333.31 137.76 L332.91 137.92 L332.51 138.00 L332.11 137.93 L331.71 137.76 L331.31 137.92 L330.91 138.00 L330.51 137.93 L330.11 137.76 L329.71 137.92 L329.31 138.00 L328.91 137.93 L328.51 137.76 L328.11 137.92 L327.71 138.00 L327.31 137.93 L326.91 137.76 L326.51 137.92 L326.11 138.00 L325.71 137.93 L325.31 137.76 L324.91 137.92 L324.51 138.00 L324.11 137.93 L323.71 137.75 L323.31 137.92 L322.91 138.00 L322.51 137.93 L322.11 137.75 L321.71 137.92 L321.31 138.00 L320.91 137.93 L320.51 137.75 L320.11 137.92 L319.71 138.00 L319.31 137.93 L318.91 137.75 L318.51 137.92 L318.11 138.00 L317.71 137.93 L317.31 137.75 L316.91 137.92 L316.51 138.00 L316.11 137.93 L315.71 137.75 L315.31 137.92 L314.91 138.00 L314.51 137.93 L314.11 137.75 L313.71 137.92 L313.31 138.00 L312.91 137.93 L312.51 137.75 L312.11 137.92 L311.71 138.00 L311.30 137.93 L310.90 137.75 L310.50 137.93 L310.10 138.00 L309.70 137.93 L309.30 137.75 L308.90 137.93 L308.50 138.00 L308.10 137.93 L307.70 137.75 L307.30 137.93 L306.90 138.00 L306.50 137.93 L306.10 137.75 L305.70 137.93 L305.30 138.00 L304.90 137.93 L304.50 137.75 L304.10 137.93 L303.70 138.00 L303.30 137.93 L302.90 137.75 L302.50 137.93 L302.10 138.00 L301.70 137.93 L301.30 137.75 L300.90 137.93 L300.50 138.00 L300.10 137.93 L299.70 137.75 L299.70 136.63 L299.30 136.49 L298.90 136.56 L298.50 136.67 L298.10 136.70 L297.70 136.63 L297.30 136.49 L296.90 136.56 L296.50 136.67 L296.10 136.70 L295.70 136.63 L295.30 136.49 L294.90 136.56 L294.50 136.67 L294.10 136.70 L293.70 136.63 L293.29 136.49 L292.89 136.57 L292.49 136.67 L292.09 136.70 L291.69 136.62 L291.29 136.49 L290.89 136.57 L290.49 136.67 L290.09 136.70 L289.69 136.62 L289.29 136.49 L288.89 136.57 L288.49 136.67 L288.09 136.70 L287.69 136.62 L287.29 136.49 L286.89 136.57 L286.49 136.67 L286.09 136.70 L285.69 136.62 L285.29 136.48 L284.89 136.57 L284.49 136.67 L284.09 136.70 L283.69 136.62 L283.29 136.48 L282.89 136.57 L282.49 136.68 L282.09 136.70 L281.69 136.62 L281.28 136.48 L280.88 136.57 L280.48 136.68 L280.08 136.70 L279.68 136.62 L279.28 136.48 L278.88 136.57 L278.48 136.68 L278.08 136.70 L277.68 136.62 L277.28 136.48 L276.88 136.57 L276.48 136.68 L276.08 136.70 L275.68 136.62 L275.28 136.48 L274.88 136.57 L274.48 136.68 L274.08 136.70 L273.68 136.62 L273.28 136.48 L272.88 136.57 L272.48 136.68 L272.08 136.70 L271.68 136.62 L271.28 136.48 L270.88 136.57 L270.48 136.68 L270.08 136.70 L269.68 136.62 L269.28 136.48 L268.87 136.57 L268.47 136.68 L268.07 136.70 L267.67 136.62 L267.27 136.48 L266.87 136.57 L266.47 136.68 L266.07 136.70 L265.67 136.62 L265.27 136.48 L264.87 136.57 L264.47 136.68 L264.07 136.69 L263.67 136.62 L263.27 136.48 L262.87 136.57 L262.47 136.68 L262.07 136.69 L261.67 136.62 L261.27 136.48 L260.87 136.57 L260.47 136.68 L260.07 136.69 L259.67 136.62 L259.27 136.48 L258.87 136.57 L258.47 136.68 L258.07 136.69 L257.67 136.62 L257.27 136.48 L256.87 136.58 L256.46 136.68 L256.06 136.69 L255.66 136.62 L255.26 136.47 L254.86 136.58 L254.46 136.68 L254.06 136.69 L253.66 136.62 L253.26 136.47 L252.86 136.58 L252.46 136.68 L252.06 136.69 L251.66 136.62 L251.26 136.47 L250.86 136.58 L250.46 136.68 L250.06 136.69 L249.66 136.62 L249.26 136.47 L248.86 136.58 L248.46 136.68 L248.06 136.69 L247.66 136.61 L247.26 136.47 L246.86 136.58 L246.46 136.68 L246.06 136.69 L245.66 136.61 L245.26 136.47 L244.86 136.58 L244.45 136.68 L244.05 136.69 L243.65 136.61 L243.25 136.47 L242.85 136.58 L242.45 136.68 L242.05 136.69 L241.65 136.61 L241.25 136.47 L240.85 136.58 L240.45 136.68 L240.05 136.69 L239.65 136.61 L239.25 136.47 L238.85 136.58 L238.45 136.68 L238.05 136.69 L237.65 136.61 L237.25 136.47 L236.85 136.58 L236.45 136.68 L236.05 136.69 L235.65 136.61 L235.25 136.47 L234.85 136.58 L234.45 136.68 L234.05 136.69 L233.65 136.61 L233.25 136.47 L232.85 136.58 L232.45 136.68 L232.04 136.69 L231.64 136.61 L231.24 136.47 L230.84 136.58 L230.44 136.68 L230.04 136.69 L229.64 136.61 L229.24 136.47 L228.84 136.58 L228.44 136.68 L228.04 136.69 L227.64 136.61 L227.24 136.47 L226.84 136.58 L226.44 136.68 L226.04 136.69 L225.64 136.61 L225.24 136.47 L224.84 136.58 L224.44 136.68 L224.04 136.69 L223.64 136.61 L223.24 136.46 L222.84 136.58 L222.44 136.68 L222.04 136.69 L221.64 136.61 L221.24 136.46 L220.84 136.59 L220.44 136.68 L220.03 136.69 L219.63 136.61 L219.23 136.46 L218.83 136.59 L218.43 136.68 L218.03 136.69 L217.63 136.61 L217.23 136.46 L216.83 136.59 L216.43 136.68 L216.03 136.69 L215.63 136.61 L215.23 136.46 L214.83 136.59 L214.43 136.68 L214.03 136.69 L213.63 136.61 L213.23 136.46 L212.83 136.59 L212.43 136.68 L212.03 136.69 L211.63 136.61 L211.23 136.46 L210.83 136.59 L210.43 136.68 L210.03 136.69 L209.63 136.61 L209.23 136.46 L208.83 136.59 L208.43 136.68 L208.03 136.69 L207.62 136.60 L207.22 136.46 L206.82 136.59 L206.42 136.68 L206.02 136.69 L205.62 136.60 L205.22 136.46 L204.82 136.59 L204.42 136.68 L204.02 136.69 L203.62 136.60 L203.22 136.46 L202.82 136.59 L202.42 136.69 L202.02 136.69 L201.62 136.60 L201.22 136.46 L200.82 136.59 L200.42 136.69 L200.02 136.69 L199.62 136.60 L199.22 136.46 L198.82 136.59 L198.42 136.69 L198.02 136.69 L197.62 136.60 L197.22 136.46 L196.82 136.59 L196.42 136.69 L196.02 136.69 L195.62 136.60 L195.21 136.46 L194.81 136.59 L194.41 136.69 L194.01 136.69 L193.61 136.60 L193.21 136.46 L192.81 136.59 L192.41 136.69 L192.01 136.69 L191.61 136.60 L191.21 136.45 L190.81 136.59 L190.41 136.69 L190.01 136.69 L189.61 136.60 L189.21 136.45 L188.81 136.59 L188.41 136.69 L188.01 136.69 L187.61 136.60 L187.21 136.45 L186.81 136.59 L186.41 136.69 L186.01 136.69 L185.61 136.60 L185.21 136.45 L184.81 136.59 L184.41 136.69 L184.01 136.69 L183.61 136.60 L183.20 136.45 L182.80 136.60 L182.40 136.69 L182.00 136.69 L181.60 136.60 L181.20 136.45 L180.80 136.60 L180.40 136.69 L180.00 136.69 L179.60 136.60 L179.20 136.45 L178.80 136.60 L178.40 136.69 L178.00 136.69 L177.60 136.60 L177.20 136.45 L177.20 136.93 L176.80 137.00 L176.40 136.97 L176.00 136.86 L175.60 136.68 L175.19 136.44 L174.79 136.16 L174.39 136.32 L173.99 136.58 L173.59 136.79 L173.19 136.94 L172.79 137.00 L172.39 136.97 L171.99 136.86 L171.58 136.67 L171.18 136.43 L170.78 136.16 L170.38 136.33 L169.98 136.58 L169.58 136.80 L169.18 136.94 L168.78 137.00 L168.38 136.97 L167.97 136.86 L167.57 136.67 L167.17 136.42 L166.77 136.15 L166.37 136.33 L165.97 136.59 L165.57 136.80 L165.17 136.94 L164.77 137.00 L164.36 136.97 L163.96 136.85 L163.56 136.66 L163.16 136.42 L162.76 136.14 L162.36 136.34 L161.96 136.60 L161.56 136.81 L161.16 136.94 L160.75 137.00 L160.35 136.97 L159.95 136.85 L159.55 136.66 L159.15 136.41 L158.75 136.13 L158.35 136.35 L157.95 136.60 L157.55 136.81 L157.14 136.95 L156.74 137.00 L156.34 136.96 L155.94 136.84 L155.54 136.65 L155.14 136.40 L154.74 136.12 L154.34 136.36 L153.94 136.61 L153.53 136.82 L153.13 136.95 L152.73 137.00 L152.33 136.96 L151.93 136.84 L151.53 136.64 L151.13 136.39 L150.73 136.12 L150.33 136.36 L149.92 136.62 L149.52 136.82 L149.12 136.95 L148.72 137.00 L148.32 136.96 L147.92 136.83 L147.52 136.64 L147.12 136.39 L146.72 136.11 L146.31 136.37 L145.91 136.62 L145.51 136.82 L145.11 136.95 L144.71 137.00 L144.31 136.96 L143.91 136.83 L143.51 136.63 L143.11 136.38 L142.70 136.10 L142.70 138.17 L142.30 138.14 L141.90 138.63 L141.50 139.04 L141.09 139.34 L140.69 139.48 L140.29 139.47 L139.89 139.30 L139.48 138.99 L139.08 138.56 L138.68 138.07 L138.27 138.24 L137.87 138.71 L137.47 139.11 L137.07 139.38 L136.66 139.50 L136.26 139.45 L135.86 139.25 L135.46 138.91 L135.05 138.47 L134.65 137.97 L134.25 138.33 L133.85 138.80 L133.44 139.17 L133.04 139.41 L132.64 139.50 L132.23 139.43 L131.83 139.20 L131.43 138.84 L131.03 138.38 L130.62 137.92 L130.22 138.43 L129.82 138.88 L129.42 139.23 L129.01 139.44 L128.61 139.50 L128.21 139.39 L127.81 139.14 L127.40 138.76 L127.00 138.29 L126.60 138.02 L126.19 138.52 L125.79 138.95 L125.39 139.28 L124.99 139.46 L124.58 139.49 L124.18 139.36 L123.78 139.07 L123.38 138.67 L122.97 138.19 L122.57 138.12 L122.17 138.61 L121.77 139.02 L121.36 139.32 L120.96 139.48 L120.56 139.48 L120.15 139.31 L119.75 139.01 L119.35 138.58 L118.95 138.09 L118.54 138.22 L118.14 138.69 L117.74 139.09 L117.34 139.37 L116.93 139.49 L116.53 139.46 L116.13 139.26 L115.73 138.93 L115.32 138.50 L114.92 138.00 L114.52 138.31 L114.11 138.78 L113.71 139.15 L113.31 139.40 L112.91 139.50 L112.50 139.43 L112.10 139.21 L111.70 138.86 L111.30 138.40 L110.89 137.90 L110.89 136.75 L110.49 136.45 L110.09 136.10 L109.68 136.25 L109.28 136.58 L108.88 136.85 L108.47 137.03 L108.07 137.10 L107.67 137.06 L107.26 136.90 L106.86 136.66 L106.46 136.34 L106.05 136.01 L105.65 136.36 L105.25 136.68 L104.84 136.92 L104.44 137.06 L104.04 137.10 L103.63 137.02 L103.23 136.83 L102.83 136.56 L102.42 136.23 L102.02 136.13 L101.62 136.47 L101.21 136.76 L100.81 136.98 L100.41 137.09 L100.00 137.08 L99.60 136.97 L99.20 136.75 L98.79 136.45 L98.39 136.11 L97.99 136.25 L97.58 136.58 L97.18 136.84 L96.78 137.03 L96.37 137.10 L95.97 137.06 L95.57 136.91 L95.17 136.66 L94.76 136.34 L94.36 136.01 L93.96 136.36 L93.55 136.67 L93.15 136.91 L92.75 137.06 L92.34 137.10 L91.94 137.02 L91.54 136.83 L91.13 136.56 L90.73 136.23 L90.33 136.13 L89.92 136.47 L89.52 136.76 L89.12 136.97 L88.71 137.09 L88.31 137.08 L87.91 136.97 L87.50 136.75 L87.10 136.46 L86.70 136.11 L86.29 136.24 L85.89 136.57 L85.49 136.84 L85.08 137.02 L84.68 137.10 L84.28 137.06 L83.87 136.91 L83.47 136.66 L83.07 136.35 L82.66 136.00 L82.26 136.36 L81.86 136.67 L81.45 136.91 L81.05 137.06 L80.65 137.10 L80.24 137.02 L79.84 136.84 L79.44 136.56 L79.03 136.23 L78.63 136.12 L78.23 136.46 L77.82 136.76 L77.42 136.97 L77.02 137.09 L76.61 137.09 L76.21 136.97 L75.81 136.76 L75.40 136.46 L75.00 136.12 L74.60 136.24 L74.19 136.57 L73.79 136.84 L73.39 137.02 L72.98 137.10 L72.58 137.06 L72.18 136.91 L71.77 136.67 L71.37 136.35 L70.97 136.00Z" fill="#FA5109"/>
<line x1="70.38" y1="152.80" x2="535.00" y2="152.80" stroke="#FFB000" stroke-width="1.3"/>
<rect x="110.56" y="148.80" width="32.54" height="7.80" rx="1.30" fill="#FFB000"/>
<rect x="338.12" y="150.70" width="33.12" height="4.10" rx="1.30" fill="#FFB000"/>
<path d="M69.68 115.60 L71.28 115.60 L71.48 142.80 L71.83 145.24 L72.18 147.09 L72.53 148.48 L72.88 149.54 L73.23 150.33 L73.58 150.94 L73.93 151.39 L74.28 151.74 L74.63 152.00 L74.98 152.19 L75.33 152.34 L75.68 152.45 L75.68 153.25 L75.33 153.40 L74.98 153.59 L74.63 153.85 L74.28 154.18 L73.93 154.63 L73.58 155.22 L73.23 156.01 L72.88 157.04 L72.53 158.41 L72.18 160.23 L71.83 162.63 L71.48 165.80 L71.38 167.90 L69.68 167.90 Z" fill="#FFB000"/>
<path d="M181.40 117.30 L183.00 117.30 L183.20 142.80 L183.55 145.24 L183.90 147.09 L184.25 148.48 L184.60 149.54 L184.95 150.33 L185.30 150.94 L185.65 151.39 L186.00 151.74 L186.35 152.00 L186.70 152.19 L187.05 152.34 L187.40 152.45 L187.40 153.25 L187.05 153.40 L186.70 153.59 L186.35 153.85 L186.00 154.18 L185.65 154.63 L185.30 155.22 L184.95 156.01 L184.60 157.04 L184.25 158.41 L183.90 160.23 L183.55 162.63 L183.20 165.80 L183.10 167.90 L181.40 167.90 Z" fill="#FFB000"/>
<path d="M299.70 151.50 L301.90 152.80 L299.70 154.10 Z" fill="#FFB000"/>
<path d="M416.32 151.40 L418.52 152.80 L416.32 154.20 Z" fill="#FFB000"/>
<line x1="478.50" y1="115.50" x2="478.50" y2="150.70" stroke="#000" stroke-width="0.9"/>
<path d="M476.40 148.80 L480.60 148.80 L478.50 152.90 Z" fill="#000"/>
<line x1="486.10" y1="115.50" x2="486.10" y2="132.10" stroke="#000" stroke-width="0.9"/>
<path d="M484.00 130.20 L488.20 130.20 L486.10 134.30 Z" fill="#000"/>
<rect x="66.26" y="112.30" width="9.02" height="55.10" fill="none" stroke="#6a6a6a" stroke-width="1.0"/>
<rect x="178.38" y="112.30" width="9.41" height="55.10" fill="none" stroke="#6a6a6a" stroke-width="1.0"/>
<rect x="295.78" y="112.30" width="9.21" height="55.10" fill="none" stroke="#6a6a6a" stroke-width="1.0"/>
<rect x="411.62" y="112.30" width="9.21" height="55.10" fill="none" stroke="#6a6a6a" stroke-width="1.0"/>
<text x="60.00" y="137.70" font-size="10.40" text-anchor="end" >3.5</text>
<text x="60.00" y="168.60" font-size="10.40" text-anchor="end" >3</text>
<text x="103.70" y="182.70" font-size="10.40" text-anchor="middle" >2</text>
<text x="142.90" y="182.70" font-size="10.40" text-anchor="middle" >4</text>
<text x="182.10" y="182.70" font-size="10.40" text-anchor="middle" >6</text>
<text x="221.30" y="182.70" font-size="10.40" text-anchor="middle" >8</text>
<text x="260.50" y="182.70" font-size="10.40" text-anchor="middle" >10</text>
<text x="299.70" y="182.70" font-size="10.40" text-anchor="middle" >12</text>
<text x="338.90" y="182.70" font-size="10.40" text-anchor="middle" >14</text>
<text x="378.10" y="182.70" font-size="10.40" text-anchor="middle" >16</text>
<text x="417.30" y="182.70" font-size="10.40" text-anchor="middle" >18</text>
<text x="456.50" y="182.70" font-size="10.40" text-anchor="middle" >20</text>
<text x="495.70" y="182.70" font-size="10.40" text-anchor="middle" >22</text>
<text x="534.90" y="182.70" font-size="10.40" text-anchor="middle" >24</text>
<text x="64.6" y="104.70" font-size="10.40"><tspan font-size="14.2" dy="1.1">×</tspan><tspan x="73.7" dy="-1.1">10</tspan><tspan dy="-6.0" dx="0.1" font-size="8.90">4</tspan></text>
<text x="91.50" y="114.40" font-size="10.40" text-anchor="middle" >(b)</text>
<text transform="translate(18.20 137.40) rotate(-90)" font-size="11.20" text-anchor="middle">By(a.u)</text>
<rect x="64.50" y="193.30" width="470.50" height="60.30" fill="none" stroke="#adadad" stroke-width="1.1"/>
<rect x="64.0" y="193.30" width="2.9" height="60.30" fill="#d9d9d9"/>
<path d="M103.70 253.60v-4.4M103.70 193.30v4.4M142.90 253.60v-4.4M142.90 193.30v4.4M182.10 253.60v-4.4M182.10 193.30v4.4M221.30 253.60v-4.4M221.30 193.30v4.4M260.50 253.60v-4.4M260.50 193.30v4.4M299.70 253.60v-4.4M299.70 193.30v4.4M338.90 253.60v-4.4M338.90 193.30v4.4M378.10 253.60v-4.4M378.10 193.30v4.4M417.30 253.60v-4.4M417.30 193.30v4.4M456.50 253.60v-4.4M456.50 193.30v4.4M495.70 253.60v-4.4M495.70 193.30v4.4M64.50 204.70h4.3M535.00 204.70h-4.3M64.50 215.80h4.3M535.00 215.80h-4.3M64.50 227.00h4.3M535.00 227.00h-4.3M64.50 238.30h4.3M535.00 238.30h-4.3M64.50 249.60h4.3M535.00 249.60h-4.3" stroke="#8c8c8c" stroke-width="0.9" fill="none"/>
<line x1="64.50" y1="204.50" x2="535.00" y2="204.50" stroke="#0072C3" stroke-width="1.3"/>
<rect x="220.91" y="201.00" width="31.46" height="7.10" rx="1.30" fill="#0072C3"/>
<rect x="338.12" y="199.30" width="33.12" height="10.40" rx="1.30" fill="#0072C3"/>
<text x="489.30" y="215.30" font-size="10.00" text-anchor="start" >-3,000 nT</text>
<text x="480.60" y="233.40" font-size="10.00" text-anchor="start" >-6,000 nT</text>
<line x1="64.50" y1="221.40" x2="71.56" y2="221.40" stroke="#FA5109" stroke-width="1.2"/>
<path d="M69.79 220.60 L70.31 220.60 L70.84 220.60 L71.36 220.60 L71.36 220.20 L71.76 219.91 L72.16 219.66 L72.56 219.46 L72.96 219.33 L73.36 219.30 L73.77 219.36 L74.17 219.51 L74.57 219.72 L74.97 219.99 L75.37 220.12 L75.77 219.84 L76.17 219.60 L76.57 219.42 L76.97 219.32 L77.37 219.31 L77.77 219.39 L78.18 219.56 L78.58 219.79 L78.98 220.07 L79.38 220.04 L79.78 219.77 L80.18 219.54 L80.58 219.38 L80.98 219.30 L81.38 219.32 L81.78 219.43 L82.18 219.62 L82.59 219.86 L82.99 220.15 L83.39 219.97 L83.79 219.70 L84.19 219.49 L84.59 219.35 L84.99 219.30 L85.39 219.34 L85.79 219.47 L86.19 219.68 L86.59 219.94 L87.00 220.17 L87.40 219.89 L87.80 219.64 L88.20 219.44 L88.60 219.33 L89.00 219.30 L89.40 219.37 L89.80 219.52 L90.20 219.75 L90.60 220.02 L91.00 220.10 L91.41 219.82 L91.81 219.58 L92.21 219.40 L92.61 219.31 L93.01 219.31 L93.41 219.40 L93.81 219.58 L94.21 219.82 L94.61 220.09 L95.01 220.02 L95.41 219.75 L95.82 219.52 L96.22 219.37 L96.62 219.30 L97.02 219.33 L97.42 219.44 L97.82 219.64 L98.22 219.89 L98.62 220.17 L99.02 219.94 L99.42 219.68 L99.82 219.47 L100.23 219.34 L100.63 219.30 L101.03 219.35 L101.43 219.49 L101.83 219.70 L102.23 219.96 L102.63 220.15 L103.03 219.87 L103.43 219.62 L103.83 219.43 L104.23 219.32 L104.64 219.30 L105.04 219.38 L105.44 219.54 L105.84 219.77 L106.24 220.04 L106.64 220.07 L107.04 219.79 L107.44 219.56 L107.84 219.39 L108.24 219.31 L108.64 219.32 L109.05 219.42 L109.45 219.60 L109.85 219.84 L110.25 220.12 L110.65 219.99 L111.05 219.73 L111.45 219.51 L111.85 219.36 L112.25 219.30 L112.65 219.33 L113.05 219.46 L113.46 219.66 L113.86 219.91 L114.26 220.20 L114.66 219.92 L115.06 219.66 L115.46 219.46 L115.86 219.34 L116.26 219.30 L116.66 219.36 L117.06 219.50 L117.46 219.72 L117.87 219.99 L118.27 220.12 L118.67 219.84 L119.07 219.60 L119.47 219.42 L119.87 219.32 L120.27 219.31 L120.67 219.39 L121.07 219.56 L121.47 219.79 L121.87 220.07 L122.28 220.04 L122.68 219.77 L123.08 219.54 L123.48 219.38 L123.88 219.30 L124.28 219.32 L124.68 219.43 L125.08 219.62 L125.48 219.86 L125.88 220.14 L126.28 219.97 L126.69 219.70 L127.09 219.49 L127.49 219.35 L127.89 219.30 L128.29 219.34 L128.69 219.47 L129.09 219.68 L129.49 219.94 L129.89 220.18 L130.29 219.89 L130.69 219.64 L131.10 219.45 L131.50 219.33 L131.90 219.30 L132.30 219.37 L132.70 219.52 L133.10 219.74 L133.50 220.01 L133.90 220.10 L134.30 219.82 L134.70 219.58 L135.10 219.40 L135.51 219.31 L135.91 219.31 L136.31 219.40 L136.71 219.58 L137.11 219.81 L137.51 220.09 L137.91 220.02 L138.31 219.75 L138.71 219.53 L139.11 219.37 L139.51 219.30 L139.92 219.33 L140.32 219.44 L140.72 219.63 L141.12 219.89 L141.52 220.17 L141.92 219.94 L142.32 219.68 L142.72 219.48 L143.12 219.34 L143.52 219.30 L143.92 219.35 L144.33 219.49 L144.73 219.70 L145.13 219.96 L145.53 220.15 L145.93 219.87 L146.33 219.62 L146.73 219.43 L147.13 219.32 L147.53 219.30 L147.93 219.38 L148.33 219.54 L148.74 219.77 L149.14 220.04 L149.54 220.07 L149.94 219.80 L150.34 219.56 L150.74 219.39 L151.14 219.31 L151.54 219.32 L151.94 219.41 L152.34 219.59 L152.74 219.84 L153.15 220.12 L153.55 219.99 L153.95 219.73 L154.35 219.51 L154.75 219.36 L155.15 219.30 L155.55 219.33 L155.95 219.46 L156.35 219.66 L156.75 219.91 L157.15 220.20 L157.56 219.92 L157.96 219.66 L158.36 219.46 L158.76 219.34 L159.16 219.30 L159.56 219.36 L159.96 219.50 L160.36 219.72 L160.76 219.99 L161.16 220.12 L161.56 219.84 L161.97 219.60 L162.37 219.42 L162.77 219.32 L163.17 219.31 L163.57 219.39 L163.97 219.56 L164.37 219.79 L164.77 220.06 L165.17 220.05 L165.57 219.77 L165.97 219.54 L166.38 219.38 L166.78 219.31 L167.18 219.32 L167.58 219.43 L167.98 219.61 L168.38 219.86 L168.78 220.14 L169.18 219.97 L169.58 219.71 L169.98 219.49 L170.38 219.35 L170.79 219.30 L171.19 219.34 L171.59 219.47 L171.99 219.68 L172.39 219.94 L172.79 220.18 L173.19 219.89 L173.59 219.64 L173.99 219.45 L174.39 219.33 L174.79 219.30 L175.20 219.37 L175.60 219.52 L176.00 219.74 L176.40 220.01 L176.80 220.10 L177.20 219.82 L177.20 220.20 L177.60 220.08 L178.01 220.01 L178.41 220.01 L178.81 220.09 L179.21 220.20 L179.62 220.08 L180.02 220.01 L180.42 220.01 L180.83 220.09 L181.23 220.19 L181.63 220.07 L182.03 220.01 L182.44 220.01 L182.84 220.09 L183.24 220.19 L183.65 220.07 L184.05 220.01 L184.45 220.02 L184.85 220.10 L185.26 220.18 L185.66 220.07 L186.06 220.00 L186.47 220.02 L186.87 220.10 L187.27 220.18 L187.68 220.06 L188.08 220.00 L188.48 220.02 L188.88 220.10 L189.29 220.17 L189.69 220.06 L190.09 220.00 L190.50 220.02 L190.90 220.11 L191.30 220.17 L191.70 220.06 L192.11 220.00 L192.51 220.02 L192.91 220.11 L193.32 220.16 L193.72 220.05 L194.12 220.00 L194.52 220.03 L194.93 220.12 L195.33 220.16 L195.73 220.05 L196.14 220.00 L196.54 220.03 L196.94 220.12 L197.34 220.16 L197.75 220.05 L198.15 220.00 L198.55 220.03 L198.96 220.13 L199.36 220.15 L199.76 220.05 L200.16 220.00 L200.57 220.03 L200.97 220.13 L201.37 220.15 L201.78 220.04 L202.18 220.00 L202.58 220.03 L202.98 220.13 L203.39 220.14 L203.79 220.04 L204.19 220.00 L204.60 220.04 L205.00 220.14 L205.40 220.14 L205.81 220.04 L206.21 220.00 L206.61 220.04 L207.01 220.14 L207.42 220.13 L207.82 220.03 L208.22 220.00 L208.63 220.04 L209.03 220.15 L209.43 220.13 L209.83 220.03 L210.24 220.00 L210.64 220.05 L211.04 220.15 L211.45 220.12 L211.85 220.03 L212.25 220.00 L212.65 220.05 L213.06 220.16 L213.46 220.12 L213.86 220.03 L214.27 220.00 L214.67 220.05 L215.07 220.16 L215.47 220.12 L215.88 220.03 L216.28 220.00 L216.68 220.05 L217.09 220.16 L217.49 220.11 L217.89 220.02 L218.29 220.00 L218.70 220.06 L219.10 220.17 L219.50 220.11 L219.91 220.02 L220.31 220.00 L220.71 220.06 L220.91 217.90 L221.31 217.43 L221.71 217.14 L222.12 217.14 L222.52 217.44 L222.92 217.88 L223.33 217.41 L223.73 217.13 L224.13 217.15 L224.54 217.46 L224.94 217.86 L225.34 217.39 L225.75 217.13 L226.15 217.16 L226.55 217.48 L226.96 217.84 L227.36 217.38 L227.76 217.12 L228.17 217.17 L228.57 217.50 L228.97 217.82 L229.38 217.36 L229.78 217.12 L230.18 217.17 L230.59 217.51 L230.99 217.80 L231.39 217.35 L231.80 217.11 L232.20 217.18 L232.60 217.53 L233.01 217.78 L233.41 217.33 L233.81 217.11 L234.22 217.19 L234.62 217.55 L235.02 217.76 L235.43 217.32 L235.83 217.11 L236.23 217.20 L236.64 217.57 L237.04 217.73 L237.44 217.30 L237.85 217.10 L238.25 217.21 L238.65 217.59 L239.06 217.71 L239.46 217.29 L239.86 217.10 L240.27 217.22 L240.67 217.61 L241.07 217.69 L241.48 217.28 L241.88 217.10 L242.28 217.24 L242.69 217.63 L243.09 217.67 L243.49 217.26 L243.90 217.10 L244.30 217.25 L244.70 217.65 L245.11 217.65 L245.51 217.25 L245.91 217.10 L246.32 217.26 L246.72 217.67 L247.12 217.63 L247.53 217.24 L247.93 217.10 L248.33 217.27 L248.74 217.69 L249.14 217.62 L249.54 217.23 L249.95 217.10 L250.35 217.28 L250.75 217.71 L251.16 217.60 L251.56 217.22 L251.96 217.10 L252.37 217.30 L252.46 220.40 L252.86 220.28 L253.26 220.21 L253.66 220.21 L254.07 220.28 L254.47 220.40 L254.87 220.28 L255.27 220.21 L255.67 220.21 L256.07 220.28 L256.47 220.40 L256.87 220.28 L257.27 220.21 L257.67 220.21 L258.07 220.28 L258.47 220.40 L258.87 220.28 L259.27 220.21 L259.67 220.21 L260.07 220.28 L260.47 220.40 L260.87 220.28 L261.27 220.21 L261.67 220.21 L262.07 220.28 L262.47 220.40 L262.87 220.28 L263.27 220.21 L263.67 220.21 L264.07 220.28 L264.47 220.40 L264.87 220.28 L265.27 220.21 L265.67 220.21 L266.07 220.29 L266.47 220.40 L266.87 220.28 L267.28 220.21 L267.68 220.21 L268.08 220.29 L268.48 220.40 L268.88 220.28 L269.28 220.21 L269.68 220.21 L270.08 220.29 L270.48 220.40 L270.88 220.28 L271.28 220.21 L271.68 220.21 L272.08 220.29 L272.48 220.40 L272.88 220.28 L273.28 220.21 L273.68 220.21 L274.08 220.29 L274.48 220.39 L274.88 220.28 L275.28 220.21 L275.68 220.21 L276.08 220.29 L276.48 220.39 L276.88 220.28 L277.28 220.21 L277.68 220.21 L278.08 220.29 L278.48 220.39 L278.88 220.28 L279.28 220.21 L279.68 220.21 L280.09 220.29 L280.49 220.39 L280.89 220.28 L281.29 220.21 L281.69 220.21 L282.09 220.29 L282.49 220.39 L282.89 220.28 L283.29 220.21 L283.69 220.21 L284.09 220.29 L284.49 220.39 L284.89 220.28 L285.29 220.21 L285.69 220.21 L286.09 220.29 L286.49 220.39 L286.89 220.28 L287.29 220.21 L287.69 220.21 L288.09 220.29 L288.49 220.39 L288.89 220.28 L289.29 220.21 L289.69 220.21 L290.09 220.29 L290.49 220.39 L290.89 220.28 L291.29 220.21 L291.69 220.21 L292.09 220.29 L292.49 220.39 L292.89 220.27 L293.30 220.21 L293.70 220.21 L294.10 220.29 L294.50 220.39 L294.90 220.27 L295.30 220.21 L295.70 220.21 L296.10 220.29 L296.50 220.39 L296.90 220.27 L297.30 220.21 L297.70 220.21 L298.10 220.29 L298.50 220.39 L298.90 220.27 L299.30 220.21 L299.70 220.21 L299.70 219.80 L300.10 219.59 L300.50 219.50 L300.90 219.59 L301.30 219.80 L301.70 219.59 L302.10 219.50 L302.50 219.59 L302.90 219.80 L303.30 219.59 L303.70 219.50 L304.10 219.59 L304.50 219.80 L304.90 219.59 L305.30 219.50 L305.70 219.59 L306.10 219.80 L306.50 219.59 L306.90 219.50 L307.30 219.59 L307.70 219.80 L308.10 219.59 L308.50 219.50 L308.90 219.59 L309.30 219.80 L309.70 219.59 L310.10 219.50 L310.50 219.59 L310.90 219.80 L311.30 219.59 L311.71 219.50 L312.11 219.59 L312.51 219.80 L312.91 219.59 L313.31 219.50 L313.71 219.59 L314.11 219.80 L314.51 219.59 L314.91 219.50 L315.31 219.59 L315.71 219.80 L316.11 219.59 L316.51 219.50 L316.91 219.59 L317.31 219.80 L317.71 219.58 L318.11 219.50 L318.51 219.59 L318.91 219.80 L319.31 219.58 L319.71 219.50 L320.11 219.59 L320.51 219.79 L320.91 219.58 L321.31 219.50 L321.71 219.59 L322.11 219.79 L322.51 219.58 L322.91 219.50 L323.31 219.59 L323.71 219.79 L324.11 219.58 L324.51 219.50 L324.91 219.59 L325.31 219.79 L325.71 219.58 L326.11 219.50 L326.51 219.59 L326.91 219.79 L327.31 219.58 L327.71 219.50 L328.11 219.59 L328.51 219.79 L328.91 219.58 L329.31 219.50 L329.71 219.59 L330.11 219.79 L330.51 219.58 L330.91 219.50 L331.31 219.59 L331.71 219.79 L332.11 219.58 L332.51 219.50 L332.91 219.59 L333.31 219.79 L333.71 219.58 L334.11 219.50 L334.51 219.59 L334.91 219.79 L335.31 219.58 L335.72 219.50 L336.12 219.59 L336.52 219.79 L336.92 219.58 L337.32 219.50 L337.72 219.59 L338.12 219.79 L338.12 216.30 L338.52 215.54 L338.92 214.99 L339.33 214.80 L339.73 215.02 L340.14 215.58 L340.54 216.25 L340.94 215.50 L341.35 214.97 L341.75 214.80 L342.16 215.04 L342.56 215.63 L342.96 216.21 L343.37 215.46 L343.77 214.95 L344.18 214.80 L344.58 215.07 L344.98 215.67 L345.39 216.16 L345.79 215.43 L346.20 214.93 L346.60 214.81 L347.00 215.09 L347.41 215.71 L347.81 216.11 L348.21 215.39 L348.62 214.91 L349.02 214.81 L349.43 215.12 L349.83 215.75 L350.23 216.07 L350.64 215.35 L351.04 214.90 L351.45 214.82 L351.85 215.15 L352.25 215.80 L352.66 216.02 L353.06 215.32 L353.47 214.88 L353.87 214.83 L354.27 215.18 L354.68 215.84 L355.08 215.98 L355.49 215.28 L355.89 214.87 L356.29 214.84 L356.70 215.21 L357.10 215.88 L357.51 215.93 L357.91 215.25 L358.31 214.85 L358.72 214.85 L359.12 215.25 L359.53 215.93 L359.93 215.89 L360.33 215.22 L360.74 214.84 L361.14 214.86 L361.55 215.28 L361.95 215.97 L362.35 215.84 L362.76 215.18 L363.16 214.83 L363.56 214.88 L363.97 215.32 L364.37 216.02 L364.78 215.80 L365.18 215.15 L365.58 214.82 L365.99 214.89 L366.39 215.35 L366.80 216.07 L367.20 215.75 L367.60 215.12 L368.01 214.81 L368.41 214.91 L368.82 215.39 L369.22 216.11 L369.62 215.71 L370.03 215.10 L370.43 214.81 L370.84 214.93 L371.24 215.42 L371.24 219.80 L371.64 219.59 L372.04 219.50 L372.44 219.59 L372.84 219.80 L373.24 219.59 L373.64 219.50 L374.04 219.59 L374.44 219.80 L374.84 219.59 L375.24 219.50 L375.64 219.59 L376.04 219.80 L376.44 219.59 L376.84 219.50 L377.24 219.59 L377.64 219.80 L378.04 219.59 L378.44 219.50 L378.84 219.59 L379.24 219.80 L379.64 219.59 L380.04 219.50 L380.44 219.59 L380.84 219.80 L381.24 219.59 L381.64 219.50 L382.04 219.59 L382.44 219.80 L382.84 219.59 L383.24 219.50 L383.64 219.59 L384.04 219.80 L384.44 219.59 L384.84 219.50 L385.25 219.59 L385.65 219.80 L386.05 219.59 L386.45 219.50 L386.85 219.59 L387.25 219.80 L387.65 219.59 L388.05 219.50 L388.45 219.59 L388.85 219.80 L389.25 219.59 L389.65 219.50 L390.05 219.59 L390.45 219.80 L390.85 219.58 L391.25 219.50 L391.65 219.59 L392.05 219.80 L392.45 219.58 L392.85 219.50 L393.25 219.59 L393.65 219.80 L394.05 219.58 L394.45 219.50 L394.85 219.59 L395.25 219.79 L395.65 219.58 L396.05 219.50 L396.45 219.59 L396.85 219.79 L397.25 219.58 L397.65 219.50 L398.05 219.59 L398.45 219.79 L398.85 219.58 L399.25 219.50 L399.65 219.59 L400.05 219.79 L400.45 219.58 L400.85 219.50 L401.25 219.59 L401.65 219.79 L402.05 219.58 L402.45 219.50 L402.85 219.59 L403.25 219.79 L403.65 219.58 L404.05 219.50 L404.45 219.59 L404.85 219.79 L405.25 219.58 L405.65 219.50 L406.05 219.59 L406.45 219.79 L406.85 219.58 L407.25 219.50 L407.65 219.59 L408.05 219.79 L408.45 219.58 L408.85 219.50 L409.25 219.59 L409.65 219.79 L410.05 219.58 L410.45 219.50 L410.85 219.59 L411.25 219.79 L411.65 219.58 L412.05 219.50 L412.46 219.59 L412.86 219.79 L413.26 219.58 L413.66 219.50 L414.06 219.59 L414.46 219.79 L414.86 219.58 L415.26 219.50 L415.66 219.59 L416.06 219.79 L416.46 219.58 L416.86 219.50 L417.26 219.60 L417.66 219.79 L418.06 219.58 L418.46 219.50 L418.86 219.60 L419.26 219.79 L419.66 219.58 L420.06 219.50 L420.46 219.60 L420.86 219.79 L421.26 219.58 L421.66 219.50 L422.06 219.60 L422.46 219.79 L422.86 219.58 L423.26 219.50 L423.66 219.60 L424.06 219.79 L424.46 219.58 L424.86 219.50 L425.26 219.60 L425.66 219.79 L426.06 219.58 L426.46 219.50 L426.86 219.60 L427.26 219.79 L427.66 219.58 L428.06 219.50 L428.46 219.60 L428.86 219.79 L429.26 219.58 L429.66 219.50 L430.06 219.60 L430.46 219.79 L430.86 219.58 L431.26 219.50 L431.66 219.60 L432.06 219.79 L432.46 219.58 L432.86 219.50 L433.26 219.60 L433.66 219.79 L434.06 219.58 L434.46 219.50 L434.86 219.60 L435.26 219.79 L435.66 219.58 L436.06 219.50 L436.46 219.60 L436.86 219.79 L437.26 219.58 L437.66 219.50 L438.06 219.60 L438.46 219.79 L438.86 219.58 L439.26 219.50 L439.67 219.60 L440.07 219.79 L440.47 219.58 L440.87 219.50 L441.27 219.60 L441.67 219.78 L442.07 219.58 L442.47 219.50 L442.87 219.60 L443.27 219.78 L443.67 219.58 L444.07 219.50 L444.47 219.60 L444.87 219.78 L445.27 219.58 L445.67 219.50 L446.07 219.60 L446.47 219.78 L446.87 219.58 L447.27 219.50 L447.67 219.60 L448.07 219.78 L448.47 219.58 L448.87 219.50 L449.27 219.60 L449.67 219.78 L450.07 219.58 L450.47 219.50 L450.87 219.60 L451.27 219.78 L451.67 219.58 L452.07 219.50 L452.47 219.60 L452.87 219.78 L453.27 219.58 L453.67 219.50 L454.07 219.60 L454.47 219.78 L454.87 219.58 L455.27 219.50 L455.67 219.60 L456.07 219.78 L456.47 219.58 L456.87 219.50 L457.27 219.60 L457.67 219.78 L458.07 219.58 L458.47 219.50 L458.87 219.60 L459.27 219.78 L459.67 219.57 L460.07 219.50 L460.47 219.60 L460.87 219.78 L461.27 219.57 L461.67 219.50 L462.07 219.60 L462.47 219.78 L462.87 219.57 L463.27 219.50 L463.67 219.60 L464.07 219.78 L464.47 219.57 L464.87 219.50 L465.27 219.60 L465.67 219.78 L466.07 219.57 L466.47 219.50 L466.88 219.60 L467.28 219.78 L467.68 219.57 L468.08 219.50 L468.48 219.60 L468.88 219.78 L469.28 219.57 L469.68 219.50 L470.08 219.60 L470.48 219.78 L470.88 219.57 L471.28 219.50 L471.68 219.60 L472.08 219.78 L472.48 219.57 L472.88 219.50 L473.28 219.60 L473.68 219.78 L474.08 219.57 L474.48 219.50 L474.88 219.60 L475.28 219.78 L475.68 219.57 L476.08 219.50 L476.48 219.60 L476.88 219.78 L477.28 219.57 L477.68 219.50 L478.08 219.60 L478.48 219.78 L478.88 219.57 L479.28 219.50 L479.68 219.61 L480.08 219.78 L480.48 219.57 L480.88 219.50 L481.28 219.61 L481.68 219.78 L482.08 219.57 L482.48 219.50 L482.88 219.61 L483.28 219.78 L483.68 219.57 L484.08 219.50 L484.48 219.61 L484.88 219.78 L485.28 219.57 L485.68 219.50 L486.08 219.61 L486.48 219.78 L486.88 219.57 L487.28 219.50 L487.68 219.61 L488.08 219.77 L488.48 219.57 L488.88 219.50 L489.28 219.61 L489.68 219.77 L490.08 219.57 L490.48 219.50 L490.88 219.61 L491.28 219.77 L491.68 219.57 L492.08 219.50 L492.48 219.61 L492.88 219.77 L493.28 219.57 L493.68 219.50 L494.09 219.61 L494.49 219.77 L494.89 219.57 L495.29 219.50 L495.69 219.61 L496.09 219.77 L496.49 219.57 L496.89 219.50 L497.29 219.61 L497.69 219.77 L498.09 219.57 L498.49 219.50 L498.89 219.61 L499.29 219.77 L499.69 219.57 L500.09 219.50 L500.49 219.61 L500.89 219.77 L501.29 219.57 L501.69 219.50 L502.09 219.61 L502.49 219.77 L502.89 219.57 L503.29 219.50 L503.69 219.61 L504.09 219.77 L504.49 219.57 L504.89 219.50 L505.29 219.61 L505.69 219.77 L506.09 219.57 L506.49 219.50 L506.89 219.61 L507.29 219.77 L507.69 219.57 L508.09 219.50 L508.49 219.61 L508.89 219.77 L509.29 219.57 L509.69 219.50 L510.09 219.61 L510.49 219.77 L510.89 219.57 L511.29 219.50 L511.69 219.61 L512.09 219.77 L512.49 219.57 L512.89 219.50 L513.29 219.61 L513.69 219.77 L514.09 219.57 L514.49 219.50 L514.89 219.61 L515.29 219.77 L515.69 219.57 L516.09 219.50 L516.49 219.61 L516.89 219.77 L517.29 219.57 L517.69 219.50 L518.09 219.61 L518.49 219.77 L518.89 219.57 L519.29 219.50 L519.69 219.61 L520.09 219.77 L520.49 219.57 L520.89 219.50 L521.30 219.61 L521.70 219.77 L522.10 219.57 L522.50 219.50 L522.90 219.61 L523.30 219.77 L523.70 219.57 L524.10 219.50 L524.50 219.61 L524.90 219.77 L525.30 219.57 L525.70 219.50 L526.10 219.61 L526.50 219.77 L526.90 219.57 L527.30 219.50 L527.70 219.61 L528.10 219.77 L528.50 219.57 L528.90 219.50 L529.30 219.61 L529.70 219.77 L530.10 219.57 L530.50 219.50 L530.90 219.61 L531.30 219.77 L531.70 219.56 L532.10 219.50 L532.50 219.61 L532.90 219.77 L533.30 219.56 L533.70 219.50 L534.10 219.61 L534.50 219.76 L534.90 219.56 L534.90 224.14 L534.50 223.94 L534.10 224.09 L533.70 224.20 L533.30 224.14 L532.90 223.93 L532.50 224.09 L532.10 224.20 L531.70 224.14 L531.30 223.93 L530.90 224.09 L530.50 224.20 L530.10 224.13 L529.70 223.93 L529.30 224.09 L528.90 224.20 L528.50 224.13 L528.10 223.93 L527.70 224.09 L527.30 224.20 L526.90 224.13 L526.50 223.93 L526.10 224.09 L525.70 224.20 L525.30 224.13 L524.90 223.93 L524.50 224.09 L524.10 224.20 L523.70 224.13 L523.30 223.93 L522.90 224.09 L522.50 224.20 L522.10 224.13 L521.70 223.93 L521.30 224.09 L520.89 224.20 L520.49 224.13 L520.09 223.93 L519.69 224.09 L519.29 224.20 L518.89 224.13 L518.49 223.93 L518.09 224.09 L517.69 224.20 L517.29 224.13 L516.89 223.93 L516.49 224.09 L516.09 224.20 L515.69 224.13 L515.29 223.93 L514.89 224.09 L514.49 224.20 L514.09 224.13 L513.69 223.93 L513.29 224.09 L512.89 224.20 L512.49 224.13 L512.09 223.93 L511.69 224.09 L511.29 224.20 L510.89 224.13 L510.49 223.93 L510.09 224.09 L509.69 224.20 L509.29 224.13 L508.89 223.93 L508.49 224.09 L508.09 224.20 L507.69 224.13 L507.29 223.93 L506.89 224.09 L506.49 224.20 L506.09 224.13 L505.69 223.93 L505.29 224.09 L504.89 224.20 L504.49 224.13 L504.09 223.93 L503.69 224.09 L503.29 224.20 L502.89 224.13 L502.49 223.93 L502.09 224.09 L501.69 224.20 L501.29 224.13 L500.89 223.93 L500.49 224.09 L500.09 224.20 L499.69 224.13 L499.29 223.93 L498.89 224.09 L498.49 224.20 L498.09 224.13 L497.69 223.93 L497.29 224.09 L496.89 224.20 L496.49 224.13 L496.09 223.93 L495.69 224.09 L495.29 224.20 L494.89 224.13 L494.49 223.93 L494.09 224.09 L493.68 224.20 L493.28 224.13 L492.88 223.93 L492.48 224.09 L492.08 224.20 L491.68 224.13 L491.28 223.93 L490.88 224.09 L490.48 224.20 L490.08 224.13 L489.68 223.93 L489.28 224.09 L488.88 224.20 L488.48 224.13 L488.08 223.93 L487.68 224.09 L487.28 224.20 L486.88 224.13 L486.48 223.92 L486.08 224.09 L485.68 224.20 L485.28 224.13 L484.88 223.92 L484.48 224.09 L484.08 224.20 L483.68 224.13 L483.28 223.92 L482.88 224.09 L482.48 224.20 L482.08 224.13 L481.68 223.92 L481.28 224.09 L480.88 224.20 L480.48 224.13 L480.08 223.92 L479.68 224.09 L479.28 224.20 L478.88 224.13 L478.48 223.92 L478.08 224.10 L477.68 224.20 L477.28 224.13 L476.88 223.92 L476.48 224.10 L476.08 224.20 L475.68 224.13 L475.28 223.92 L474.88 224.10 L474.48 224.20 L474.08 224.13 L473.68 223.92 L473.28 224.10 L472.88 224.20 L472.48 224.13 L472.08 223.92 L471.68 224.10 L471.28 224.20 L470.88 224.13 L470.48 223.92 L470.08 224.10 L469.68 224.20 L469.28 224.13 L468.88 223.92 L468.48 224.10 L468.08 224.20 L467.68 224.13 L467.28 223.92 L466.88 224.10 L466.47 224.20 L466.07 224.13 L465.67 223.92 L465.27 224.10 L464.87 224.20 L464.47 224.13 L464.07 223.92 L463.67 224.10 L463.27 224.20 L462.87 224.13 L462.47 223.92 L462.07 224.10 L461.67 224.20 L461.27 224.13 L460.87 223.92 L460.47 224.10 L460.07 224.20 L459.67 224.13 L459.27 223.92 L458.87 224.10 L458.47 224.20 L458.07 224.12 L457.67 223.92 L457.27 224.10 L456.87 224.20 L456.47 224.12 L456.07 223.92 L455.67 224.10 L455.27 224.20 L454.87 224.12 L454.47 223.92 L454.07 224.10 L453.67 224.20 L453.27 224.12 L452.87 223.92 L452.47 224.10 L452.07 224.20 L451.67 224.12 L451.27 223.92 L450.87 224.10 L450.47 224.20 L450.07 224.12 L449.67 223.92 L449.27 224.10 L448.87 224.20 L448.47 224.12 L448.07 223.92 L447.67 224.10 L447.27 224.20 L446.87 224.12 L446.47 223.92 L446.07 224.10 L445.67 224.20 L445.27 224.12 L444.87 223.92 L444.47 224.10 L444.07 224.20 L443.67 224.12 L443.27 223.92 L442.87 224.10 L442.47 224.20 L442.07 224.12 L441.67 223.92 L441.27 224.10 L440.87 224.20 L440.47 224.12 L440.07 223.91 L439.67 224.10 L439.26 224.20 L438.86 224.12 L438.46 223.91 L438.06 224.10 L437.66 224.20 L437.26 224.12 L436.86 223.91 L436.46 224.10 L436.06 224.20 L435.66 224.12 L435.26 223.91 L434.86 224.10 L434.46 224.20 L434.06 224.12 L433.66 223.91 L433.26 224.10 L432.86 224.20 L432.46 224.12 L432.06 223.91 L431.66 224.10 L431.26 224.20 L430.86 224.12 L430.46 223.91 L430.06 224.10 L429.66 224.20 L429.26 224.12 L428.86 223.91 L428.46 224.10 L428.06 224.20 L427.66 224.12 L427.26 223.91 L426.86 224.10 L426.46 224.20 L426.06 224.12 L425.66 223.91 L425.26 224.10 L424.86 224.20 L424.46 224.12 L424.06 223.91 L423.66 224.10 L423.26 224.20 L422.86 224.12 L422.46 223.91 L422.06 224.10 L421.66 224.20 L421.26 224.12 L420.86 223.91 L420.46 224.10 L420.06 224.20 L419.66 224.12 L419.26 223.91 L418.86 224.10 L418.46 224.20 L418.06 224.12 L417.66 223.91 L417.26 224.10 L416.86 224.20 L416.46 224.12 L416.06 223.91 L415.66 224.11 L415.26 224.20 L414.86 224.12 L414.46 223.91 L414.06 224.11 L413.66 224.20 L413.26 224.12 L412.86 223.91 L412.46 224.11 L412.05 224.20 L411.65 224.12 L411.25 223.91 L410.85 224.11 L410.45 224.20 L410.05 224.12 L409.65 223.91 L409.25 224.11 L408.85 224.20 L408.45 224.12 L408.05 223.91 L407.65 224.11 L407.25 224.20 L406.85 224.12 L406.45 223.91 L406.05 224.11 L405.65 224.20 L405.25 224.12 L404.85 223.91 L404.45 224.11 L404.05 224.20 L403.65 224.12 L403.25 223.91 L402.85 224.11 L402.45 224.20 L402.05 224.12 L401.65 223.91 L401.25 224.11 L400.85 224.20 L400.45 224.12 L400.05 223.91 L399.65 224.11 L399.25 224.20 L398.85 224.12 L398.45 223.91 L398.05 224.11 L397.65 224.20 L397.25 224.12 L396.85 223.91 L396.45 224.11 L396.05 224.20 L395.65 224.12 L395.25 223.91 L394.85 224.11 L394.45 224.20 L394.05 224.12 L393.65 223.90 L393.25 224.11 L392.85 224.20 L392.45 224.12 L392.05 223.90 L391.65 224.11 L391.25 224.20 L390.85 224.12 L390.45 223.90 L390.05 224.11 L389.65 224.20 L389.25 224.11 L388.85 223.90 L388.45 224.11 L388.05 224.20 L387.65 224.11 L387.25 223.90 L386.85 224.11 L386.45 224.20 L386.05 224.11 L385.65 223.90 L385.25 224.11 L384.84 224.20 L384.44 224.11 L384.04 223.90 L383.64 224.11 L383.24 224.20 L382.84 224.11 L382.44 223.90 L382.04 224.11 L381.64 224.20 L381.24 224.11 L380.84 223.90 L380.44 224.11 L380.04 224.20 L379.64 224.11 L379.24 223.90 L378.84 224.11 L378.44 224.20 L378.04 224.11 L377.64 223.90 L377.24 224.11 L376.84 224.20 L376.44 224.11 L376.04 223.90 L375.64 224.11 L375.24 224.20 L374.84 224.11 L374.44 223.90 L374.04 224.11 L373.64 224.20 L373.24 224.11 L372.84 223.90 L372.44 224.11 L372.04 224.20 L371.64 224.11 L371.24 223.90 L371.24 227.58 L370.84 228.07 L370.43 228.19 L370.03 227.90 L369.62 227.29 L369.22 226.89 L368.82 227.61 L368.41 228.09 L368.01 228.19 L367.60 227.88 L367.20 227.25 L366.80 226.93 L366.39 227.65 L365.99 228.11 L365.58 228.18 L365.18 227.85 L364.78 227.20 L364.37 226.98 L363.97 227.68 L363.56 228.12 L363.16 228.17 L362.76 227.82 L362.35 227.16 L361.95 227.03 L361.55 227.72 L361.14 228.14 L360.74 228.16 L360.33 227.78 L359.93 227.11 L359.53 227.07 L359.12 227.75 L358.72 228.15 L358.31 228.15 L357.91 227.75 L357.51 227.07 L357.10 227.12 L356.70 227.79 L356.29 228.16 L355.89 228.13 L355.49 227.72 L355.08 227.02 L354.68 227.16 L354.27 227.82 L353.87 228.17 L353.47 228.12 L353.06 227.68 L352.66 226.98 L352.25 227.20 L351.85 227.85 L351.45 228.18 L351.04 228.10 L350.64 227.65 L350.23 226.93 L349.83 227.25 L349.43 227.88 L349.02 228.19 L348.62 228.09 L348.21 227.61 L347.81 226.89 L347.41 227.29 L347.00 227.91 L346.60 228.19 L346.20 228.07 L345.79 227.57 L345.39 226.84 L344.98 227.33 L344.58 227.93 L344.18 228.20 L343.77 228.05 L343.37 227.54 L342.96 226.79 L342.56 227.37 L342.16 227.96 L341.75 228.20 L341.35 228.03 L340.94 227.50 L340.54 226.75 L340.14 227.42 L339.73 227.98 L339.33 228.20 L338.92 228.01 L338.52 227.46 L338.12 226.70 L338.12 223.91 L337.72 224.11 L337.32 224.20 L336.92 224.12 L336.52 223.91 L336.12 224.11 L335.72 224.20 L335.31 224.12 L334.91 223.91 L334.51 224.11 L334.11 224.20 L333.71 224.12 L333.31 223.91 L332.91 224.11 L332.51 224.20 L332.11 224.12 L331.71 223.91 L331.31 224.11 L330.91 224.20 L330.51 224.12 L330.11 223.91 L329.71 224.11 L329.31 224.20 L328.91 224.12 L328.51 223.91 L328.11 224.11 L327.71 224.20 L327.31 224.12 L326.91 223.91 L326.51 224.11 L326.11 224.20 L325.71 224.12 L325.31 223.91 L324.91 224.11 L324.51 224.20 L324.11 224.12 L323.71 223.91 L323.31 224.11 L322.91 224.20 L322.51 224.12 L322.11 223.91 L321.71 224.11 L321.31 224.20 L320.91 224.12 L320.51 223.91 L320.11 224.11 L319.71 224.20 L319.31 224.12 L318.91 223.90 L318.51 224.11 L318.11 224.20 L317.71 224.12 L317.31 223.90 L316.91 224.11 L316.51 224.20 L316.11 224.11 L315.71 223.90 L315.31 224.11 L314.91 224.20 L314.51 224.11 L314.11 223.90 L313.71 224.11 L313.31 224.20 L312.91 224.11 L312.51 223.90 L312.11 224.11 L311.71 224.20 L311.30 224.11 L310.90 223.90 L310.50 224.11 L310.10 224.20 L309.70 224.11 L309.30 223.90 L308.90 224.11 L308.50 224.20 L308.10 224.11 L307.70 223.90 L307.30 224.11 L306.90 224.20 L306.50 224.11 L306.10 223.90 L305.70 224.11 L305.30 224.20 L304.90 224.11 L304.50 223.90 L304.10 224.11 L303.70 224.20 L303.30 224.11 L302.90 223.90 L302.50 224.11 L302.10 224.20 L301.70 224.11 L301.30 223.90 L300.90 224.11 L300.50 224.20 L300.10 224.11 L299.70 223.90 L299.70 222.89 L299.30 222.89 L298.90 222.83 L298.50 222.71 L298.10 222.81 L297.70 222.89 L297.30 222.89 L296.90 222.83 L296.50 222.71 L296.10 222.81 L295.70 222.89 L295.30 222.89 L294.90 222.83 L294.50 222.71 L294.10 222.81 L293.70 222.89 L293.30 222.89 L292.89 222.83 L292.49 222.71 L292.09 222.81 L291.69 222.89 L291.29 222.89 L290.89 222.82 L290.49 222.71 L290.09 222.81 L289.69 222.89 L289.29 222.89 L288.89 222.82 L288.49 222.71 L288.09 222.81 L287.69 222.89 L287.29 222.89 L286.89 222.82 L286.49 222.71 L286.09 222.81 L285.69 222.89 L285.29 222.89 L284.89 222.82 L284.49 222.71 L284.09 222.81 L283.69 222.89 L283.29 222.89 L282.89 222.82 L282.49 222.71 L282.09 222.81 L281.69 222.89 L281.29 222.89 L280.89 222.82 L280.49 222.71 L280.09 222.81 L279.68 222.89 L279.28 222.89 L278.88 222.82 L278.48 222.71 L278.08 222.81 L277.68 222.89 L277.28 222.89 L276.88 222.82 L276.48 222.71 L276.08 222.81 L275.68 222.89 L275.28 222.89 L274.88 222.82 L274.48 222.71 L274.08 222.81 L273.68 222.89 L273.28 222.89 L272.88 222.82 L272.48 222.70 L272.08 222.81 L271.68 222.89 L271.28 222.89 L270.88 222.82 L270.48 222.70 L270.08 222.81 L269.68 222.89 L269.28 222.89 L268.88 222.82 L268.48 222.70 L268.08 222.81 L267.68 222.89 L267.28 222.89 L266.87 222.82 L266.47 222.70 L266.07 222.81 L265.67 222.89 L265.27 222.89 L264.87 222.82 L264.47 222.70 L264.07 222.82 L263.67 222.89 L263.27 222.89 L262.87 222.82 L262.47 222.70 L262.07 222.82 L261.67 222.89 L261.27 222.89 L260.87 222.82 L260.47 222.70 L260.07 222.82 L259.67 222.89 L259.27 222.89 L258.87 222.82 L258.47 222.70 L258.07 222.82 L257.67 222.89 L257.27 222.89 L256.87 222.82 L256.47 222.70 L256.07 222.82 L255.67 222.89 L255.27 222.89 L254.87 222.82 L254.47 222.70 L254.07 222.82 L253.66 222.89 L253.26 222.89 L252.86 222.82 L252.46 222.70 L252.37 225.40 L251.96 225.60 L251.56 225.48 L251.16 225.10 L250.75 224.99 L250.35 225.42 L249.95 225.60 L249.54 225.47 L249.14 225.08 L248.74 225.01 L248.33 225.43 L247.93 225.60 L247.53 225.46 L247.12 225.07 L246.72 225.03 L246.32 225.44 L245.91 225.60 L245.51 225.45 L245.11 225.05 L244.70 225.05 L244.30 225.45 L243.90 225.60 L243.49 225.44 L243.09 225.03 L242.69 225.07 L242.28 225.46 L241.88 225.60 L241.48 225.42 L241.07 225.01 L240.67 225.09 L240.27 225.48 L239.86 225.60 L239.46 225.41 L239.06 224.99 L238.65 225.11 L238.25 225.49 L237.85 225.60 L237.44 225.40 L237.04 224.97 L236.64 225.13 L236.23 225.50 L235.83 225.59 L235.43 225.38 L235.02 224.94 L234.62 225.15 L234.22 225.51 L233.81 225.59 L233.41 225.37 L233.01 224.92 L232.60 225.17 L232.20 225.52 L231.80 225.59 L231.39 225.35 L230.99 224.90 L230.59 225.19 L230.18 225.53 L229.78 225.58 L229.38 225.34 L228.97 224.88 L228.57 225.20 L228.17 225.53 L227.76 225.58 L227.36 225.32 L226.96 224.86 L226.55 225.22 L226.15 225.54 L225.75 225.57 L225.34 225.31 L224.94 224.84 L224.54 225.24 L224.13 225.55 L223.73 225.57 L223.33 225.29 L222.92 224.82 L222.52 225.26 L222.12 225.56 L221.71 225.56 L221.31 225.27 L220.91 224.80 L220.71 222.44 L220.31 222.50 L219.91 222.48 L219.50 222.39 L219.10 222.33 L218.70 222.44 L218.29 222.50 L217.89 222.48 L217.49 222.39 L217.09 222.34 L216.68 222.45 L216.28 222.50 L215.88 222.47 L215.47 222.38 L215.07 222.34 L214.67 222.45 L214.27 222.50 L213.86 222.47 L213.46 222.38 L213.06 222.34 L212.65 222.45 L212.25 222.50 L211.85 222.47 L211.45 222.38 L211.04 222.35 L210.64 222.45 L210.24 222.50 L209.83 222.47 L209.43 222.37 L209.03 222.35 L208.63 222.46 L208.22 222.50 L207.82 222.47 L207.42 222.37 L207.01 222.36 L206.61 222.46 L206.21 222.50 L205.81 222.46 L205.40 222.36 L205.00 222.36 L204.60 222.46 L204.19 222.50 L203.79 222.46 L203.39 222.36 L202.98 222.37 L202.58 222.47 L202.18 222.50 L201.78 222.46 L201.37 222.35 L200.97 222.37 L200.57 222.47 L200.16 222.50 L199.76 222.45 L199.36 222.35 L198.96 222.37 L198.55 222.47 L198.15 222.50 L197.75 222.45 L197.34 222.34 L196.94 222.38 L196.54 222.47 L196.14 222.50 L195.73 222.45 L195.33 222.34 L194.93 222.38 L194.52 222.47 L194.12 222.50 L193.72 222.45 L193.32 222.34 L192.91 222.39 L192.51 222.48 L192.11 222.50 L191.70 222.44 L191.30 222.33 L190.90 222.39 L190.50 222.48 L190.09 222.50 L189.69 222.44 L189.29 222.33 L188.88 222.40 L188.48 222.48 L188.08 222.50 L187.68 222.44 L187.27 222.32 L186.87 222.40 L186.47 222.48 L186.06 222.50 L185.66 222.43 L185.26 222.32 L184.85 222.40 L184.45 222.48 L184.05 222.49 L183.65 222.43 L183.24 222.31 L182.84 222.41 L182.44 222.49 L182.03 222.49 L181.63 222.43 L181.23 222.31 L180.83 222.41 L180.42 222.49 L180.02 222.49 L179.62 222.42 L179.21 222.30 L178.81 222.41 L178.41 222.49 L178.01 222.49 L177.60 222.42 L177.20 222.30 L177.20 222.68 L176.80 222.40 L176.40 222.49 L176.00 222.76 L175.60 222.98 L175.20 223.13 L174.79 223.20 L174.39 223.17 L173.99 223.05 L173.59 222.86 L173.19 222.61 L172.79 222.32 L172.39 222.56 L171.99 222.82 L171.59 223.03 L171.19 223.16 L170.79 223.20 L170.38 223.15 L169.98 223.01 L169.58 222.79 L169.18 222.53 L168.78 222.36 L168.38 222.64 L167.98 222.89 L167.58 223.07 L167.18 223.18 L166.78 223.19 L166.38 223.12 L165.97 222.96 L165.57 222.73 L165.17 222.45 L164.77 222.44 L164.37 222.71 L163.97 222.94 L163.57 223.11 L163.17 223.19 L162.77 223.18 L162.37 223.08 L161.97 222.90 L161.56 222.66 L161.16 222.38 L160.76 222.51 L160.36 222.78 L159.96 223.00 L159.56 223.14 L159.16 223.20 L158.76 223.16 L158.36 223.04 L157.96 222.84 L157.56 222.58 L157.15 222.30 L156.75 222.59 L156.35 222.84 L155.95 223.04 L155.55 223.17 L155.15 223.20 L154.75 223.14 L154.35 222.99 L153.95 222.77 L153.55 222.51 L153.15 222.38 L152.74 222.66 L152.34 222.91 L151.94 223.09 L151.54 223.18 L151.14 223.19 L150.74 223.11 L150.34 222.94 L149.94 222.70 L149.54 222.43 L149.14 222.46 L148.74 222.73 L148.33 222.96 L147.93 223.12 L147.53 223.20 L147.13 223.18 L146.73 223.07 L146.33 222.88 L145.93 222.63 L145.53 222.35 L145.13 222.54 L144.73 222.80 L144.33 223.01 L143.92 223.15 L143.52 223.20 L143.12 223.16 L142.72 223.02 L142.32 222.82 L141.92 222.56 L141.52 222.33 L141.12 222.61 L140.72 222.87 L140.32 223.06 L139.92 223.17 L139.51 223.20 L139.11 223.13 L138.71 222.97 L138.31 222.75 L137.91 222.48 L137.51 222.41 L137.11 222.69 L136.71 222.92 L136.31 223.10 L135.91 223.19 L135.51 223.19 L135.10 223.10 L134.70 222.92 L134.30 222.68 L133.90 222.40 L133.50 222.49 L133.10 222.76 L132.70 222.98 L132.30 223.13 L131.90 223.20 L131.50 223.17 L131.10 223.05 L130.69 222.86 L130.29 222.61 L129.89 222.32 L129.49 222.56 L129.09 222.82 L128.69 223.03 L128.29 223.16 L127.89 223.20 L127.49 223.15 L127.09 223.01 L126.69 222.80 L126.28 222.53 L125.88 222.36 L125.48 222.64 L125.08 222.88 L124.68 223.07 L124.28 223.18 L123.88 223.20 L123.48 223.12 L123.08 222.96 L122.68 222.73 L122.28 222.46 L121.87 222.43 L121.47 222.71 L121.07 222.94 L120.67 223.11 L120.27 223.19 L119.87 223.18 L119.47 223.08 L119.07 222.90 L118.67 222.66 L118.27 222.38 L117.87 222.51 L117.46 222.78 L117.06 223.00 L116.66 223.14 L116.26 223.20 L115.86 223.16 L115.46 223.04 L115.06 222.84 L114.66 222.58 L114.26 222.30 L113.86 222.59 L113.46 222.84 L113.05 223.04 L112.65 223.17 L112.25 223.20 L111.85 223.14 L111.45 222.99 L111.05 222.77 L110.65 222.51 L110.25 222.38 L109.85 222.66 L109.45 222.90 L109.05 223.08 L108.64 223.18 L108.24 223.19 L107.84 223.11 L107.44 222.94 L107.04 222.71 L106.64 222.43 L106.24 222.46 L105.84 222.73 L105.44 222.96 L105.04 223.12 L104.64 223.20 L104.23 223.18 L103.83 223.07 L103.43 222.88 L103.03 222.63 L102.63 222.35 L102.23 222.54 L101.83 222.80 L101.43 223.01 L101.03 223.15 L100.63 223.20 L100.23 223.16 L99.82 223.03 L99.42 222.82 L99.02 222.56 L98.62 222.33 L98.22 222.61 L97.82 222.86 L97.42 223.06 L97.02 223.17 L96.62 223.20 L96.22 223.13 L95.82 222.98 L95.41 222.75 L95.01 222.48 L94.61 222.41 L94.21 222.68 L93.81 222.92 L93.41 223.10 L93.01 223.19 L92.61 223.19 L92.21 223.10 L91.81 222.92 L91.41 222.68 L91.00 222.40 L90.60 222.48 L90.20 222.75 L89.80 222.98 L89.40 223.13 L89.00 223.20 L88.60 223.17 L88.20 223.06 L87.80 222.86 L87.40 222.61 L87.00 222.33 L86.59 222.56 L86.19 222.82 L85.79 223.03 L85.39 223.16 L84.99 223.20 L84.59 223.15 L84.19 223.01 L83.79 222.80 L83.39 222.53 L82.99 222.35 L82.59 222.64 L82.18 222.88 L81.78 223.07 L81.38 223.18 L80.98 223.20 L80.58 223.12 L80.18 222.96 L79.78 222.73 L79.38 222.46 L78.98 222.43 L78.58 222.71 L78.18 222.94 L77.77 223.11 L77.37 223.19 L76.97 223.18 L76.57 223.08 L76.17 222.90 L75.77 222.66 L75.37 222.38 L74.97 222.51 L74.57 222.78 L74.17 222.99 L73.77 223.14 L73.36 223.20 L72.96 223.17 L72.56 223.04 L72.16 222.84 L71.76 222.59 L71.36 222.30 L71.36 222.20 L70.84 222.20 L70.31 222.20 L69.79 222.20Z" fill="#FA5109"/>
<line x1="70.38" y1="237.90" x2="535.00" y2="237.90" stroke="#FFB000" stroke-width="1.3"/>
<line x1="64.50" y1="242.90" x2="70.38" y2="242.90" stroke="#FFB000" stroke-width="1.3"/>
<rect x="220.91" y="234.30" width="31.46" height="7.20" rx="1.30" fill="#FFB000"/>
<rect x="338.12" y="232.90" width="33.12" height="10.10" rx="1.30" fill="#FFB000"/>
<path d="M69.48 228.90 L70.48 228.90 L70.68 233.40 L71.03 234.50 L71.38 235.33 L71.73 235.96 L72.08 236.43 L72.43 236.79 L72.78 237.06 L73.13 237.27 L73.48 237.42 L73.48 238.38 L73.13 238.53 L72.78 238.74 L72.43 239.01 L72.08 239.37 L71.73 239.84 L71.38 240.47 L71.03 241.30 L70.68 242.40 L70.58 250.40 L69.48 250.40 Z" fill="#FFB000"/>
<path d="M181.10 229.00 L182.40 229.00 L182.60 232.90 L182.95 234.12 L183.30 235.04 L183.65 235.74 L184.00 236.27 L184.35 236.67 L184.70 236.97 L185.05 237.20 L185.40 237.37 L185.75 237.50 L185.75 238.30 L185.40 238.43 L185.05 238.60 L184.70 238.83 L184.35 239.13 L184.00 239.53 L183.65 240.06 L183.30 240.76 L182.95 241.68 L182.60 242.90 L182.50 246.00 L181.10 246.00 Z" fill="#FFB000"/>
<path d="M299.70 236.60 L301.90 237.90 L299.70 239.20 Z" fill="#FFB000"/>
<path d="M416.71 235.50 L419.91 237.90 L416.71 240.30 Z" fill="#FFB000"/>
<line x1="478.50" y1="204.50" x2="478.50" y2="235.70" stroke="#000" stroke-width="0.9"/>
<path d="M476.40 233.80 L480.60 233.80 L478.50 237.90 Z" fill="#000"/>
<line x1="486.10" y1="204.50" x2="486.10" y2="218.60" stroke="#000" stroke-width="0.9"/>
<path d="M484.00 216.70 L488.20 216.70 L486.10 220.80 Z" fill="#000"/>
<rect x="66.26" y="196.70" width="9.02" height="55.70" fill="none" stroke="#6a6a6a" stroke-width="1.0"/>
<rect x="178.38" y="196.70" width="9.41" height="55.70" fill="none" stroke="#6a6a6a" stroke-width="1.0"/>
<rect x="295.78" y="196.70" width="9.21" height="55.70" fill="none" stroke="#6a6a6a" stroke-width="1.0"/>
<rect x="411.62" y="196.70" width="9.21" height="55.70" fill="none" stroke="#6a6a6a" stroke-width="1.0"/>
<text x="60.00" y="197.30" font-size="9.75" text-anchor="end" >12,000</text>
<text x="60.00" y="208.70" font-size="9.75" text-anchor="end" >10,000</text>
<text x="60.00" y="219.80" font-size="9.75" text-anchor="end" >8,000</text>
<text x="60.00" y="231.00" font-size="9.75" text-anchor="end" >6,000</text>
<text x="60.00" y="242.30" font-size="9.75" text-anchor="end" >4,000</text>
<text x="60.00" y="253.60" font-size="9.75" text-anchor="end" >2,000</text>
<text x="103.70" y="268.40" font-size="10.40" text-anchor="middle" >2</text>
<text x="142.90" y="268.40" font-size="10.40" text-anchor="middle" >4</text>
<text x="182.10" y="268.40" font-size="10.40" text-anchor="middle" >6</text>
<text x="221.30" y="268.40" font-size="10.40" text-anchor="middle" >8</text>
<text x="260.50" y="268.40" font-size="10.40" text-anchor="middle" >10</text>
<text x="299.70" y="268.40" font-size="10.40" text-anchor="middle" >12</text>
<text x="338.90" y="268.40" font-size="10.40" text-anchor="middle" >14</text>
<text x="378.10" y="268.40" font-size="10.40" text-anchor="middle" >16</text>
<text x="417.30" y="268.40" font-size="10.40" text-anchor="middle" >18</text>
<text x="456.50" y="268.40" font-size="10.40" text-anchor="middle" >20</text>
<text x="495.70" y="268.40" font-size="10.40" text-anchor="middle" >22</text>
<text x="534.90" y="268.40" font-size="10.40" text-anchor="middle" >24</text>
<text x="91.50" y="200.40" font-size="10.40" text-anchor="middle" >(c)</text>
<text transform="translate(18.50 224.90) rotate(-90)" font-size="12.00" text-anchor="middle">Bz(a.u)</text>
<text x="123.80" y="252.6" font-size="11.40" text-anchor="middle">AMI<tspan dy="2.6" font-size="7.50">s</tspan><tspan dy="-2.6">+AMI</tspan><tspan dy="2.6" font-size="7.50">d1</tspan></text>
<text x="236.60" y="252.6" font-size="11.40" text-anchor="middle">AMI<tspan dy="2.6" font-size="7.50">s</tspan><tspan dy="-2.6">+AMI</tspan><tspan dy="2.6" font-size="7.50">d2</tspan></text>
<text x="356.80" y="252.6" font-size="11.40" text-anchor="middle">AMI<tspan dy="2.6" font-size="7.50">s</tspan><tspan dy="-2.6">+AMI</tspan><tspan dy="2.6" font-size="7.50">d3</tspan></text>
<text x="477.00" y="252.6" font-size="11.40" text-anchor="middle">AMI<tspan dy="2.6" font-size="7.50">s</tspan><tspan dy="-2.6">+AMI</tspan><tspan dy="2.6" font-size="7.50">d4</tspan></text>
<text x="300.10" y="281.30" font-size="10.70" text-anchor="middle" >Time(s)</text>
<line x1="289.8" y1="13.30" x2="307.7" y2="13.30" stroke="#0072C3" stroke-width="1.3"/>
<text x="309.40" y="16.70" font-size="10.25" text-anchor="start" >Maneuver</text>
<line x1="354.7" y1="13.30" x2="374.3" y2="13.30" stroke="#FA5109" stroke-width="1.3"/>
<text x="375.60" y="16.70" font-size="10.25" text-anchor="start" >Maneuver+AMI</text>
<line x1="447.0" y1="13.30" x2="465.4" y2="13.30" stroke="#FFB000" stroke-width="1.3"/>
<text x="467.00" y="16.70" font-size="10.35" text-anchor="start" >Data after AAIS</text>
</svg>
</body></html>
